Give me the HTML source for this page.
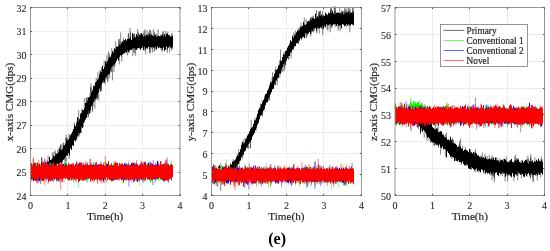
<!DOCTYPE html>
<html><head><meta charset="utf-8"><title>CMG</title>
<style>
html,body{margin:0;padding:0;background:#fff;}
body{width:550px;height:251px;overflow:hidden;}
svg{display:block;}
text{font-family:"Liberation Serif",serif;fill:#262626;}
.tl text{font-size:10px;stroke:#262626;stroke-width:0.1px;}
.lb{font-size:11.2px;stroke:#262626;stroke-width:0.18px;}
.lg{font-size:9.3px;stroke:#262626;stroke-width:0.2px;}
.cap{font-size:16px;font-weight:bold;fill:#000;}
</style></head>
<body>
<svg width="550" height="251" viewBox="0 0 550 251">
<rect width="550" height="251" fill="#fff"/>
<path d="M67.5 7.5V195.5M105.5 7.5V195.5M142.5 7.5V195.5M30.5 172.5H180.0M30.5 148.5H180.0M30.5 125.5H180.0M30.5 101.5H180.0M30.5 78.5H180.0M30.5 54.5H180.0M30.5 31.5H180.0" stroke="#ececec" stroke-width="1" fill="none"/>
<path d="M30.5 165.5V176.9M31.5 167.2V178.8M32.5 165.8V177.7M33.5 165.8V179.8M34.5 165.9V177.6M35.5 163.9V177.5M36.5 163.8V178.0M37.5 164.9V179.0M38.5 166.2V178.2M39.5 164.0V178.2M40.5 166.7V178.6M41.5 162.8V177.4M42.5 163.4V177.3M43.5 162.8V178.0M44.5 164.4V177.7M45.5 162.3V176.4M46.5 163.2V175.8M47.5 161.7V174.9M48.5 162.0V172.8M49.5 157.1V173.5M50.5 159.9V173.0M51.5 159.7V172.6M52.5 158.1V169.0M53.5 155.7V170.2M54.5 156.2V169.5M55.5 154.5V168.6M56.5 153.7V167.2M57.5 153.2V164.2M58.5 152.5V166.3M59.5 148.6V163.5M60.5 150.0V162.5M61.5 150.2V163.1M62.5 148.9V160.9M63.5 146.0V159.8M64.5 145.2V158.7M65.5 143.4V156.9M66.5 140.0V155.7M67.5 140.5V155.7M68.5 139.3V153.2M69.5 137.8V155.2M70.5 135.1V148.4M71.5 133.5V149.9M72.5 131.5V145.4M73.5 129.0V145.9M74.5 124.5V140.4M75.5 126.3V141.4M76.5 123.4V138.0M77.5 117.2V136.3M78.5 121.5V133.3M79.5 119.2V133.5M80.5 114.2V132.9M81.5 112.6V126.7M82.5 110.0V127.9M83.5 110.1V123.0M84.5 108.0V121.2M85.5 102.9V119.3M86.5 102.4V117.6M87.5 100.5V114.2M88.5 97.3V111.5M89.5 97.1V113.5M90.5 95.5V110.5M91.5 92.1V106.2M92.5 90.5V104.6M93.5 86.3V102.3M94.5 86.1V98.8M95.5 82.3V99.4M96.5 81.3V95.4M97.5 79.7V94.7M98.5 78.6V92.7M99.5 74.4V88.7M100.5 72.1V86.7M101.5 72.0V84.3M102.5 65.9V82.8M103.5 69.0V80.9M104.5 66.6V82.3M105.5 61.3V77.1M106.5 63.9V77.0M107.5 61.1V75.0M108.5 58.5V74.4M109.5 57.6V74.6M110.5 56.7V70.4M111.5 54.3V67.6M112.5 51.3V66.6M113.5 52.6V65.0M114.5 48.4V64.2M115.5 49.2V63.3M116.5 46.8V60.9M117.5 46.9V58.6M118.5 46.5V60.5M119.5 44.9V56.9M120.5 45.1V55.3M121.5 42.9V55.8M122.5 41.4V54.6M123.5 40.4V53.7M124.5 40.2V53.1M125.5 39.0V52.1M126.5 40.5V52.7M127.5 38.9V50.6M128.5 38.7V52.3M129.5 38.6V50.8M130.5 37.1V49.8M131.5 39.9V50.1M132.5 33.2V48.8M133.5 37.6V48.5M134.5 37.0V48.4M135.5 37.6V49.6M136.5 34.2V49.9M137.5 35.7V48.3M138.5 36.4V48.2M139.5 34.5V48.3M140.5 35.1V49.7M141.5 33.0V48.3M142.5 34.5V46.7M143.5 36.6V50.0M144.5 35.6V46.6M145.5 36.2V49.4M146.5 35.0V48.1M147.5 35.2V48.7M148.5 35.9V46.9M149.5 34.0V46.9M150.5 35.4V47.4M151.5 34.6V47.4M152.5 35.4V47.1M153.5 36.2V47.5M154.5 35.3V47.8M155.5 34.9V46.4M156.5 36.6V49.2M157.5 36.4V46.5M158.5 35.8V48.2M159.5 36.1V47.4M160.5 36.2V48.2M161.5 35.3V48.0M162.5 35.1V48.9M163.5 37.0V47.5M164.5 34.2V50.9M165.5 36.3V49.7M166.5 33.8V46.6M167.5 33.3V48.0M168.5 34.9V47.7M169.5 35.2V46.3M170.5 36.6V47.3M171.5 36.3V48.3M172.5 35.9V46.9" stroke="#000" stroke-width="1.0" fill="none"/>
<path d="M32.0 177.7V179.5M32.3 165.8V164.3M32.8 165.8V165.5M34.4 165.9V162.3M34.9 165.9V163.6M35.2 177.5V178.4M35.2 177.5V181.0M36.8 178.0V179.3M37.1 179.0V180.3M37.4 179.0V181.1M38.8 166.2V165.2M40.4 178.6V183.9M40.8 166.7V163.6M41.5 162.8V157.1M41.7 177.4V181.2M41.8 162.8V157.5M42.8 177.3V179.7M44.1 177.7V179.9M44.8 177.7V178.6M44.9 177.7V179.1M45.4 162.3V162.1M46.2 163.2V162.2M47.5 161.7V160.5M48.1 162.0V155.3M48.2 172.8V176.6M48.7 162.0V161.5M49.2 173.5V176.6M49.3 173.5V174.9M49.6 157.1V157.0M49.7 173.5V179.6M49.9 157.1V156.7M50.1 173.0V174.1M51.2 159.7V159.0M51.2 172.6V177.5M52.1 169.0V170.6M52.3 158.1V152.3M52.9 169.0V171.6M52.9 169.0V175.1M53.6 155.7V155.2M53.8 170.2V174.2M53.8 170.2V178.7M53.9 155.7V151.8M55.2 154.5V150.1M55.3 154.5V152.6M56.1 167.2V179.2M57.3 153.2V153.1M57.9 153.2V150.5M58.1 152.5V149.1M59.0 148.6V147.6M60.0 148.6V146.0M60.1 162.5V163.0M60.6 162.5V163.6M60.6 150.0V145.2M60.6 150.0V149.4M60.8 150.0V143.8M60.9 150.0V149.7M61.3 150.2V149.2M62.0 148.9V144.7M62.3 160.9V165.6M62.9 160.9V161.2M63.2 146.0V142.9M63.2 146.0V145.9M63.7 146.0V142.7M64.1 158.7V159.3M64.8 158.7V160.9M65.6 143.4V138.2M65.9 156.9V161.7M65.9 156.9V164.2M66.1 140.0V134.4M66.5 140.0V137.1M67.1 140.5V138.0M67.8 140.5V138.7M67.8 155.7V156.0M69.0 155.2V155.3M69.1 155.2V159.0M69.2 137.8V133.7M69.2 137.8V135.5M69.6 155.2V156.1M74.2 124.5V122.2M76.3 138.0V139.5M76.6 123.4V121.4M76.6 138.0V140.2M77.0 136.3V139.1M78.3 133.3V136.3M78.3 133.3V134.7M78.6 121.5V117.8M78.7 121.5V110.1M78.9 133.3V137.1M78.9 121.5V121.1M79.7 133.5V135.2M80.5 114.2V113.0M81.1 126.7V128.8M81.3 126.7V133.0M81.9 112.6V108.5M83.4 123.0V127.2M84.1 108.0V107.6M84.3 108.0V98.4M84.7 121.2V122.8M85.5 119.3V119.9M86.0 117.6V117.7M86.2 102.4V97.8M86.2 117.6V118.0M86.5 102.4V97.6M87.7 100.5V96.9M87.8 100.5V100.0M88.1 111.5V118.2M88.3 111.5V116.7M88.9 111.5V114.6M90.0 97.1V93.3M90.5 95.5V87.1M90.7 110.5V112.8M91.0 92.1V83.3M91.2 92.1V87.4M92.4 104.6V110.2M92.6 104.6V111.7M93.0 90.5V89.0M93.0 86.3V85.9M93.2 102.3V106.3M94.0 86.3V84.7M94.1 98.8V101.5M94.4 98.8V99.5M94.9 98.8V108.8M94.9 98.8V101.1M96.2 81.3V77.8M96.4 95.4V97.8M96.5 95.4V96.7M96.8 95.4V97.8M96.9 95.4V99.9M96.9 95.4V99.0M97.6 94.7V96.8M97.8 94.7V98.5M97.9 79.7V71.9M98.7 92.7V100.3M98.9 78.6V77.8M99.9 74.4V70.6M100.0 86.7V92.0M100.3 86.7V88.0M100.6 86.7V91.6M100.7 72.1V70.2M100.8 86.7V90.9M101.2 84.3V86.2M101.3 84.3V91.0M101.3 84.3V89.2M101.5 72.0V67.3M103.6 80.9V83.1M103.7 80.9V81.3M104.1 66.6V60.5M104.2 82.3V82.7M105.1 77.1V84.5M105.3 77.1V78.4M105.9 77.1V79.1M106.2 77.0V79.4M106.6 63.9V60.7M106.7 63.9V63.0M106.9 63.9V62.0M107.0 61.1V55.3M107.6 75.0V82.1M108.0 74.4V80.9M108.3 58.5V51.3M109.0 58.5V56.8M109.2 57.6V56.9M109.2 57.6V56.7M109.3 74.6V77.8M109.5 57.6V53.1M110.1 70.4V72.7M111.0 70.4V71.4M111.5 67.6V72.1M111.8 54.3V48.1M112.4 66.6V80.4M113.0 66.6V66.7M113.2 52.6V52.1M113.8 52.6V49.7M113.9 65.0V72.0M114.0 64.2V64.7M114.3 64.2V66.7M114.8 64.2V66.5M114.9 48.4V48.1M115.7 49.2V41.2M117.5 58.6V59.0M117.5 46.9V46.0M118.4 46.5V45.2M118.6 46.5V39.2M119.0 44.9V43.6M119.3 56.9V64.4M119.4 44.9V38.8M120.0 45.1V41.5M120.6 45.1V44.3M120.7 45.1V32.4M121.1 55.8V55.9M121.6 42.9V42.4M121.8 55.8V57.0M121.8 55.8V61.6M122.5 54.6V54.8M123.4 40.4V37.7M124.7 53.1V53.7M124.9 53.1V53.6M125.2 52.1V52.2M127.4 50.6V55.4M128.0 38.9V38.7M128.2 38.7V33.8M128.6 38.7V32.9M129.1 50.8V53.1M129.7 38.6V37.3M130.1 37.1V28.0M130.5 37.1V32.4M132.9 48.8V56.2M133.5 37.6V33.9M133.5 48.5V49.1M133.9 48.5V52.6M134.0 37.6V34.0M134.2 37.0V35.8M134.4 48.4V53.1M134.6 37.0V33.2M135.6 49.6V55.7M135.9 37.6V36.0M136.0 37.6V37.3M137.0 48.3V49.2M137.7 35.7V28.9M138.0 36.4V32.1M138.5 36.4V33.2M140.6 35.1V33.1M142.9 46.7V47.9M143.5 50.0V50.3M143.8 36.6V32.6M144.0 46.6V47.2M144.1 35.6V30.8M144.2 46.6V47.3M144.7 46.6V50.9M145.1 36.2V28.9M145.7 49.4V54.2M145.8 36.2V34.6M146.0 48.1V48.5M146.3 48.1V48.4M146.5 35.0V34.7M147.1 35.2V30.4M148.1 35.9V35.4M148.2 35.9V32.8M148.7 35.9V32.9M149.6 46.9V48.9M149.6 46.9V53.4M149.7 34.0V30.1M150.0 47.4V50.8M150.1 35.4V29.4M150.2 47.4V53.0M150.7 35.4V34.2M151.0 35.4V31.4M151.7 34.6V34.1M152.3 47.1V52.7M152.3 47.1V49.3M152.9 35.4V35.2M153.3 36.2V29.2M153.4 47.5V47.9M154.2 47.8V52.0M154.4 35.3V33.0M154.4 35.3V31.9M154.6 47.8V50.6M154.7 35.3V34.3M155.6 46.4V48.2M155.6 46.4V47.0M155.9 46.4V49.9M156.0 49.2V49.5M156.4 36.6V33.5M157.2 46.5V47.6M157.5 36.4V34.6M158.1 35.8V29.4M160.5 36.2V34.5M161.2 48.0V49.8M162.0 48.9V52.1M162.1 35.1V34.3M162.2 48.9V50.3M162.6 35.1V32.1M162.7 48.9V50.1M163.0 37.0V33.5M163.4 37.0V36.8M163.6 37.0V30.9M165.8 36.3V31.0M165.9 36.3V36.1M166.7 46.6V47.2M167.2 48.0V50.3M167.3 48.0V52.8M167.4 48.0V49.2M168.0 33.3V31.6M169.7 46.3V52.9M170.1 47.3V48.1M170.9 36.6V36.1M171.7 48.3V50.4M171.9 36.3V32.7M171.9 36.3V34.0M172.1 46.9V46.9M172.4 35.9V35.8M172.4 46.9V49.2" stroke="#000" stroke-width="0.5" fill="none"/>
<path d="M30.5 165.7V176.6M31.5 165.3V176.9M32.5 164.5V180.1M33.5 164.7V177.2M34.5 166.4V177.8M35.5 163.0V178.1M36.5 163.0V178.2M37.5 166.4V178.3M38.5 166.3V180.0M39.5 165.8V177.3M40.5 165.9V178.6M41.5 165.9V180.0M42.5 165.5V177.0M43.5 166.4V177.8M44.5 164.7V177.7M45.5 164.1V177.1M46.5 165.5V177.6M47.5 166.5V176.8M48.5 166.0V179.4M49.5 166.7V179.9M50.5 162.8V178.2M51.5 164.2V180.8M52.5 164.7V178.1M53.5 166.2V177.1M54.5 166.8V178.3M55.5 165.1V176.7M56.5 167.0V181.6M57.5 165.3V179.8M58.5 166.9V178.0M59.5 164.8V177.9M60.5 165.6V178.5M61.5 166.6V178.3M62.5 166.1V178.0M63.5 167.0V178.3M64.5 161.8V177.8M65.5 165.8V177.8M66.5 167.4V178.4M67.5 165.3V177.8M68.5 165.2V177.9M69.5 165.7V178.5M70.5 164.0V176.8M71.5 166.1V179.3M72.5 165.1V177.1M73.5 165.6V177.5M74.5 166.2V179.0M75.5 167.8V177.0M76.5 166.3V178.4M77.5 165.6V176.7M78.5 166.1V179.1M79.5 164.7V176.3M80.5 167.2V178.3M81.5 165.8V179.6M82.5 166.1V178.0M83.5 165.6V177.6M84.5 164.5V179.9M85.5 165.6V177.3M86.5 165.5V179.8M87.5 165.6V178.7M88.5 165.4V179.4M89.5 167.0V178.7M90.5 165.5V178.7M91.5 164.5V178.3M92.5 165.4V181.4M93.5 162.2V178.6M94.5 166.5V177.6M95.5 166.0V179.8M96.5 167.4V177.5M97.5 166.1V178.7M98.5 166.4V178.0M99.5 166.7V179.7M100.5 165.7V178.1M101.5 165.3V177.7M102.5 166.2V179.9M103.5 163.8V177.9M104.5 166.4V178.8M105.5 161.8V179.3M106.5 165.1V177.1M107.5 165.4V178.9M108.5 165.8V177.5M109.5 165.0V178.8M110.5 166.2V177.7M111.5 165.2V177.6M112.5 165.1V179.5M113.5 164.5V179.1M114.5 163.3V177.6M115.5 166.6V178.3M116.5 166.8V178.6M117.5 163.4V179.0M118.5 165.7V178.6M119.5 165.3V177.3M120.5 167.3V178.4M121.5 163.1V178.1M122.5 165.0V177.6M123.5 167.0V178.8M124.5 163.2V177.2M125.5 166.0V179.1M126.5 165.9V179.4M127.5 165.2V179.7M128.5 165.1V177.1M129.5 165.0V179.7M130.5 165.6V178.9M131.5 164.9V179.3M132.5 165.9V177.2M133.5 166.0V177.8M134.5 163.7V177.4M135.5 165.2V179.8M136.5 165.4V178.4M137.5 165.2V177.2M138.5 166.3V179.0M139.5 164.8V177.9M140.5 166.0V177.4M141.5 166.4V178.3M142.5 165.2V181.0M143.5 165.7V179.2M144.5 164.8V179.8M145.5 165.7V177.6M146.5 163.8V177.2M147.5 166.5V178.6M148.5 166.2V177.0M149.5 164.2V178.2M150.5 165.2V182.6M151.5 165.5V180.8M152.5 165.8V177.5M153.5 166.9V177.8M154.5 167.1V177.1M155.5 166.6V176.7M156.5 167.4V179.0M157.5 166.8V178.7M158.5 166.0V180.1M159.5 166.2V178.1M160.5 164.6V178.2M161.5 166.4V179.9M162.5 164.3V179.4M163.5 166.3V178.7M164.5 166.5V177.4M165.5 166.8V178.0M166.5 165.7V178.0M167.5 165.9V181.3M168.5 166.0V178.2M169.5 165.9V178.0M170.5 163.3V178.5M171.5 166.5V178.1M172.5 166.7V176.8" stroke="#00ff00" stroke-width="1.0" fill="none"/>
<path d="M30.9 176.6V178.7M31.4 165.3V164.3M31.5 176.9V177.6M31.8 176.9V179.7M31.9 176.9V178.0M34.3 166.4V163.4M34.8 166.4V166.4M37.4 166.4V166.0M38.6 180.0V180.3M38.9 166.3V166.0M39.3 165.8V163.4M39.5 177.3V178.1M42.2 177.0V177.5M44.1 177.7V180.2M45.6 177.1V181.3M45.8 164.1V163.8M48.2 166.0V163.2M48.4 166.0V165.9M50.8 178.2V179.0M53.0 177.1V177.3M54.5 178.3V178.3M55.3 176.7V177.2M56.3 167.0V165.8M56.6 167.0V166.2M56.9 167.0V163.3M58.1 178.0V178.9M58.7 178.0V178.1M58.7 178.0V178.4M60.2 178.5V179.0M60.4 178.5V180.5M61.0 178.5V180.5M61.7 166.6V165.8M61.8 178.3V178.4M62.5 166.1V165.8M64.2 177.8V178.5M66.3 178.4V178.9M66.5 167.4V163.0M67.9 177.8V178.7M68.2 165.2V164.2M68.3 165.2V163.4M68.5 165.2V162.8M71.1 179.3V181.1M71.5 179.3V181.5M72.0 177.1V180.6M72.1 177.1V180.4M72.5 177.1V178.0M72.7 177.1V179.7M72.9 177.1V178.6M73.3 177.5V178.6M73.3 165.6V165.0M76.4 178.4V180.5M76.9 166.3V165.0M77.5 165.6V165.2M77.7 165.6V162.5M77.9 176.7V177.7M78.1 166.1V165.6M78.4 166.1V163.3M78.6 179.1V187.3M78.6 166.1V163.8M79.2 176.3V178.0M80.8 167.2V165.0M81.1 179.6V181.3M82.5 178.0V179.9M85.2 177.3V180.5M85.3 177.3V181.3M87.4 165.6V164.8M88.0 179.4V180.9M89.0 167.0V166.8M89.5 167.0V164.6M90.7 178.7V179.1M91.7 178.3V178.4M92.1 165.4V165.3M96.7 167.4V166.0M97.8 166.1V164.8M99.5 166.7V165.1M100.0 166.7V166.1M100.3 165.7V164.5M101.3 165.3V165.0M102.9 179.9V182.4M103.8 177.9V178.8M104.9 166.4V161.9M107.1 178.9V182.6M109.4 165.0V163.0M109.9 165.0V164.9M111.1 165.2V165.1M111.6 177.6V178.1M112.3 165.1V163.4M113.7 179.1V181.7M115.4 178.3V179.5M116.2 166.8V163.6M118.5 165.7V164.5M118.8 178.6V180.1M122.8 177.6V184.0M124.6 177.2V178.2M124.8 177.2V177.8M127.0 179.4V179.5M128.1 177.1V178.2M128.6 177.1V177.3M128.9 177.1V178.9M128.9 177.1V178.0M131.6 164.9V164.2M134.3 177.4V178.9M134.5 177.4V182.1M134.6 163.7V162.7M137.3 165.2V163.7M138.5 166.3V166.3M138.7 179.0V180.0M138.8 179.0V179.9M139.7 177.9V185.9M141.1 166.4V166.4M141.2 166.4V159.9M142.0 166.4V166.2M143.9 165.7V165.1M145.2 165.7V165.2M145.8 177.6V181.4M146.6 177.2V177.5M148.3 166.2V163.0M148.5 166.2V165.0M149.0 177.0V177.0M149.0 164.2V161.8M149.1 178.2V179.2M150.0 164.2V162.7M154.9 177.1V183.3M156.4 179.0V179.7M158.7 180.1V181.8M159.2 178.1V180.5M161.7 166.4V165.4M162.8 164.3V163.5M163.2 166.3V164.6M164.6 177.4V180.7M164.7 166.5V165.4M165.0 178.0V179.1M166.2 165.7V163.5M166.2 165.7V164.0M167.2 165.9V165.6M168.3 178.2V178.2M168.5 178.2V183.8M169.7 178.0V178.4M169.8 165.9V164.6M171.0 166.5V166.2M171.2 178.1V178.3M171.2 166.5V165.3M171.5 166.5V161.2M172.0 178.1V178.3M172.2 176.8V176.8" stroke="#00ff00" stroke-width="0.5" fill="none"/>
<path d="M30.5 166.4V177.8M31.5 166.7V178.8M32.5 165.9V177.5M33.5 163.4V181.2M34.5 164.7V177.4M35.5 164.5V178.0M36.5 166.5V180.6M37.5 165.9V178.9M38.5 165.2V177.4M39.5 165.4V181.1M40.5 167.1V178.6M41.5 165.5V177.7M42.5 165.3V177.6M43.5 166.7V178.0M44.5 165.9V178.8M45.5 165.9V177.6M46.5 166.1V177.6M47.5 164.6V177.4M48.5 166.0V179.4M49.5 165.6V179.1M50.5 166.5V178.1M51.5 164.7V179.3M52.5 164.4V179.1M53.5 165.8V178.1M54.5 167.0V179.6M55.5 165.2V178.3M56.5 164.7V179.1M57.5 166.5V180.4M58.5 166.2V179.4M59.5 164.8V178.9M60.5 164.8V178.7M61.5 165.4V178.7M62.5 165.0V177.1M63.5 164.0V178.0M64.5 166.6V177.3M65.5 163.7V178.7M66.5 164.4V177.1M67.5 166.3V178.3M68.5 165.1V177.1M69.5 164.9V180.0M70.5 165.4V178.4M71.5 163.9V179.1M72.5 166.7V178.0M73.5 164.8V178.3M74.5 166.7V178.6M75.5 163.9V178.1M76.5 163.9V178.1M77.5 165.2V177.7M78.5 163.7V176.2M79.5 164.4V181.0M80.5 163.6V179.6M81.5 166.8V177.5M82.5 165.4V179.2M83.5 165.5V177.7M84.5 165.4V177.4M85.5 164.5V179.7M86.5 164.9V177.1M87.5 165.5V178.9M88.5 166.3V178.1M89.5 166.3V177.5M90.5 164.9V177.7M91.5 166.7V178.2M92.5 164.6V179.5M93.5 165.1V178.2M94.5 167.0V178.5M95.5 163.9V177.4M96.5 166.1V177.0M97.5 165.1V177.5M98.5 164.6V178.0M99.5 166.5V179.5M100.5 167.5V179.8M101.5 164.7V179.5M102.5 165.2V179.3M103.5 166.4V181.5M104.5 166.6V178.3M105.5 166.2V178.6M106.5 164.4V177.2M107.5 163.9V179.8M108.5 164.6V177.6M109.5 166.4V178.2M110.5 167.3V178.5M111.5 163.5V180.7M112.5 166.2V178.3M113.5 166.0V180.0M114.5 167.0V177.0M115.5 167.4V179.8M116.5 165.6V178.6M117.5 166.2V179.3M118.5 166.5V178.8M119.5 166.2V178.0M120.5 166.9V177.9M121.5 168.0V178.2M122.5 163.8V179.5M123.5 167.3V178.5M124.5 163.8V179.7M125.5 164.6V177.4M126.5 167.0V178.7M127.5 167.7V177.6M128.5 166.1V178.2M129.5 167.1V179.0M130.5 165.3V179.8M131.5 163.1V178.0M132.5 166.9V179.5M133.5 162.8V177.9M134.5 164.6V178.6M135.5 166.3V178.0M136.5 166.3V178.4M137.5 166.4V181.9M138.5 166.9V177.1M139.5 166.2V179.0M140.5 166.3V177.5M141.5 164.1V179.7M142.5 167.6V178.0M143.5 165.2V178.1M144.5 162.2V177.6M145.5 166.0V176.8M146.5 166.4V176.3M147.5 166.7V177.1M148.5 162.8V179.3M149.5 165.9V179.4M150.5 166.9V178.0M151.5 165.9V179.8M152.5 163.8V179.8M153.5 165.1V179.1M154.5 165.4V179.5M155.5 166.4V178.8M156.5 165.0V178.4M157.5 161.0V178.6M158.5 165.0V177.8M159.5 165.8V177.0M160.5 164.2V177.7M161.5 166.7V176.6M162.5 165.7V177.6M163.5 164.4V180.4M164.5 166.4V177.6M165.5 166.5V180.4M166.5 163.5V177.3M167.5 164.7V179.3M168.5 164.3V176.5M169.5 166.0V178.4M170.5 165.1V178.3M171.5 166.5V178.4M172.5 167.6V175.3" stroke="#0000ff" stroke-width="1.0" fill="none"/>
<path d="M31.0 178.8V182.1M31.6 166.7V165.8M34.1 177.4V178.5M34.1 164.7V164.4M34.9 177.4V177.7M35.5 164.5V162.8M35.9 164.5V164.4M38.3 177.4V182.9M39.8 165.4V164.7M40.6 167.1V166.3M41.2 165.5V165.5M41.6 165.5V165.5M41.6 177.7V178.8M42.3 177.6V179.6M43.3 166.7V163.5M43.8 166.7V165.8M44.1 165.9V165.1M44.2 165.9V164.9M44.6 165.9V158.7M45.9 177.6V178.8M47.4 164.6V162.0M49.5 179.1V181.5M50.4 166.5V162.5M50.4 166.5V165.5M50.4 166.5V166.2M50.5 166.5V164.5M51.5 179.3V179.9M52.4 164.4V163.2M52.6 164.4V164.3M53.0 165.8V164.6M53.7 178.1V181.9M56.6 164.7V163.6M58.7 166.2V165.5M58.8 166.2V162.0M58.9 179.4V181.3M59.2 178.9V182.0M61.6 165.4V165.4M61.7 165.4V163.4M62.1 177.1V178.1M62.1 177.1V178.2M62.5 177.1V181.6M64.5 166.6V165.4M68.4 177.1V178.2M68.9 177.1V179.1M74.3 166.7V165.7M74.4 166.7V166.1M74.6 166.7V165.8M75.5 178.1V180.7M76.1 178.1V179.2M76.8 163.9V160.7M77.2 165.2V164.5M78.4 176.2V180.0M78.7 176.2V177.0M79.7 164.4V162.8M79.8 164.4V163.3M80.9 179.6V180.4M81.5 166.8V166.5M82.8 165.4V162.2M83.6 165.5V163.5M83.6 177.7V178.0M86.9 164.9V162.0M87.0 177.1V182.3M89.3 177.5V178.7M91.0 166.7V164.7M91.1 166.7V162.8M91.8 178.2V180.2M92.8 179.5V179.9M93.9 178.2V178.7M94.3 167.0V166.5M94.9 178.5V179.5M95.3 177.4V178.8M95.6 177.4V179.0M96.1 166.1V161.7M96.7 177.0V179.2M98.5 178.0V178.9M99.6 166.5V166.2M99.8 166.5V166.1M100.3 167.5V164.5M100.5 167.5V165.9M100.6 167.5V167.0M100.6 167.5V161.6M100.9 167.5V166.5M112.2 166.2V165.5M113.4 180.0V180.4M113.5 166.0V165.5M114.7 177.0V177.5M117.5 166.2V165.0M119.1 178.0V178.0M120.1 177.9V179.3M121.2 178.2V179.5M123.1 167.3V166.7M123.4 167.3V164.9M123.8 167.3V165.1M124.0 179.7V180.8M124.9 179.7V180.0M125.2 177.4V177.6M125.3 164.6V162.5M126.2 167.0V163.1M126.4 167.0V165.4M126.4 178.7V180.9M127.1 167.7V167.5M127.6 167.7V166.8M127.7 177.6V179.8M127.9 167.7V163.6M128.3 166.1V163.5M128.3 178.2V181.1M128.6 166.1V164.2M128.9 178.2V186.5M129.9 167.1V164.8M131.6 178.0V178.2M135.1 166.3V162.8M136.2 166.3V162.4M136.4 178.4V181.6M140.1 166.3V164.8M140.2 166.3V163.8M140.4 166.3V162.8M140.8 177.5V179.1M141.4 179.7V179.8M141.6 179.7V180.1M142.7 167.6V167.0M143.1 178.1V182.9M143.3 165.2V162.5M143.3 178.1V179.6M145.7 166.0V164.8M145.9 176.8V178.7M146.5 166.4V166.3M147.0 166.7V165.6M147.4 166.7V166.4M147.5 177.1V180.3M147.5 166.7V166.4M147.8 166.7V164.5M147.8 177.1V177.8M150.2 166.9V161.7M150.3 166.9V162.6M151.3 165.9V162.7M152.8 179.8V185.0M153.3 165.1V160.0M155.5 166.4V164.0M155.8 178.8V181.8M158.4 177.8V178.5M159.5 165.8V164.1M160.0 165.8V165.3M161.0 164.2V161.1M161.0 166.7V165.7M161.8 176.6V178.0M162.0 177.6V178.2M162.4 165.7V164.4M163.2 180.4V180.4M163.6 180.4V182.3M164.2 177.6V179.9M165.3 166.5V161.3M167.0 163.5V159.4M168.8 176.5V182.1M170.9 178.3V179.7M171.6 166.5V164.3M172.3 175.3V176.4M172.4 175.3V175.8" stroke="#0000ff" stroke-width="0.5" fill="none"/>
<path d="M30.5 165.7V179.3M31.5 163.1V177.7M32.5 166.2V179.2M33.5 164.6V178.7M34.5 162.9V180.1M35.5 163.8V181.3M36.5 167.1V178.4M37.5 162.5V179.5M38.5 165.3V180.3M39.5 164.9V177.5M40.5 166.4V179.8M41.5 164.8V179.8M42.5 165.3V180.9M43.5 164.0V181.2M44.5 166.9V177.2M45.5 163.6V177.6M46.5 164.0V177.3M47.5 163.9V179.5M48.5 166.0V182.2M49.5 163.1V180.3M50.5 166.3V181.1M51.5 165.5V178.7M52.5 163.3V180.6M53.5 162.5V178.3M54.5 166.6V178.6M55.5 165.2V178.2M56.5 163.6V177.9M57.5 165.8V179.4M58.5 164.2V178.6M59.5 162.6V179.4M60.5 164.1V178.7M61.5 165.8V179.4M62.5 164.4V179.9M63.5 165.7V177.6M64.5 166.4V177.7M65.5 166.7V178.6M66.5 165.2V177.7M67.5 165.5V179.3M68.5 163.3V180.0M69.5 164.5V178.9M70.5 164.6V177.4M71.5 164.1V180.0M72.5 164.4V178.5M73.5 163.4V178.6M74.5 166.7V179.8M75.5 164.8V178.1M76.5 162.1V178.2M77.5 164.8V179.1M78.5 165.1V182.3M79.5 162.4V180.3M80.5 162.4V179.8M81.5 162.7V178.1M82.5 165.4V180.7M83.5 165.8V180.6M84.5 164.9V180.0M85.5 164.7V179.1M86.5 165.3V178.0M87.5 163.2V179.2M88.5 165.0V178.4M89.5 165.0V177.5M90.5 165.8V181.7M91.5 165.6V179.6M92.5 166.1V180.6M93.5 165.1V179.1M94.5 165.0V180.6M95.5 164.0V178.6M96.5 162.6V179.5M97.5 166.6V179.8M98.5 165.8V179.4M99.5 164.5V180.4M100.5 163.9V179.6M101.5 163.5V180.5M102.5 166.2V178.7M103.5 164.0V178.5M104.5 165.9V179.6M105.5 165.5V179.8M106.5 163.3V176.7M107.5 167.0V179.0M108.5 161.2V178.5M109.5 165.6V180.0M110.5 165.0V180.0M111.5 163.9V181.4M112.5 165.8V181.2M113.5 166.4V178.8M114.5 163.7V179.7M115.5 161.8V178.4M116.5 163.0V179.7M117.5 162.9V179.5M118.5 166.2V179.5M119.5 163.0V177.9M120.5 164.2V178.4M121.5 164.1V180.0M122.5 163.6V176.0M123.5 164.9V182.5M124.5 165.3V179.1M125.5 166.2V180.1M126.5 164.2V178.8M127.5 165.5V178.3M128.5 165.2V179.8M129.5 165.9V179.7M130.5 164.8V179.2M131.5 165.8V178.3M132.5 162.4V178.0M133.5 165.3V182.1M134.5 165.8V181.0M135.5 165.6V177.2M136.5 163.5V179.3M137.5 164.2V177.8M138.5 165.5V177.5M139.5 165.2V180.7M140.5 166.6V179.2M141.5 161.8V178.4M142.5 163.9V178.7M143.5 165.1V178.8M144.5 164.0V178.1M145.5 161.6V180.3M146.5 165.0V177.6M147.5 166.1V178.3M148.5 165.7V178.0M149.5 165.8V180.2M150.5 163.9V178.9M151.5 164.1V180.0M152.5 165.4V180.3M153.5 165.2V178.7M154.5 165.0V177.0M155.5 164.9V179.1M156.5 165.9V178.7M157.5 165.4V177.6M158.5 165.8V178.2M159.5 165.9V177.7M160.5 161.1V179.5M161.5 164.3V178.6M162.5 165.2V180.1M163.5 163.8V179.0M164.5 163.4V181.5M165.5 165.8V179.3M166.5 163.6V180.2M167.5 163.9V180.7M168.5 166.6V180.9M169.5 166.2V178.4M170.5 164.8V178.0M171.5 164.3V180.0M172.5 165.0V177.2" stroke="#ff0000" stroke-width="1.0" fill="none"/>
<path d="M31.2 177.7V180.1M32.5 166.2V165.8M33.2 164.6V157.6M33.4 164.6V157.9M33.4 164.6V164.3M36.7 178.4V183.5M37.4 179.5V180.1M37.6 179.5V183.3M38.2 165.3V163.0M38.7 165.3V163.9M38.9 165.3V159.9M41.6 164.8V163.0M42.1 165.3V162.1M42.7 165.3V161.3M42.8 165.3V161.3M43.7 164.0V161.3M44.4 166.9V164.6M44.8 177.2V185.3M44.9 166.9V160.6M45.3 163.6V163.0M46.0 164.0V159.2M46.4 177.3V181.9M46.4 177.3V179.9M48.1 182.2V184.1M52.3 180.6V181.2M52.3 180.6V181.7M54.2 166.6V163.8M54.2 166.6V164.4M56.3 177.9V180.4M56.6 177.9V178.3M56.9 177.9V181.3M57.3 179.4V180.7M58.1 164.2V162.9M58.7 178.6V181.6M60.2 178.7V179.0M60.6 178.7V189.5M61.3 165.8V164.4M61.5 165.8V164.2M61.6 179.4V182.3M61.8 165.8V162.8M62.3 179.9V182.4M64.0 177.7V182.3M64.5 177.7V178.0M65.3 166.7V164.6M66.0 166.7V163.0M68.2 180.0V181.3M68.7 163.3V162.6M69.3 178.9V180.8M72.6 164.4V163.0M72.8 178.5V180.4M73.2 163.4V162.5M73.7 178.6V182.2M76.1 178.2V182.6M76.2 178.2V179.1M81.9 178.1V180.0M83.9 165.8V163.6M85.3 164.7V161.0M86.6 178.0V178.3M86.9 165.3V165.0M88.8 165.0V164.9M89.8 165.0V159.0M90.7 165.8V158.8M90.8 165.8V162.4M93.7 179.1V182.9M94.7 165.0V164.7M95.0 165.0V162.8M95.5 164.0V162.7M97.5 179.8V184.0M97.6 179.8V181.9M98.1 165.8V164.3M99.5 164.5V164.1M100.0 164.5V164.4M100.5 179.6V182.2M101.9 180.5V183.5M103.6 178.5V178.9M103.6 164.0V161.9M104.0 165.9V164.5M104.2 179.6V183.5M104.2 165.9V165.3M105.2 165.5V155.7M106.1 176.7V182.7M113.1 178.8V180.3M113.2 166.4V166.3M114.1 163.7V161.0M114.4 179.7V180.4M114.8 163.7V163.3M115.3 178.4V179.0M117.1 179.5V179.9M119.2 177.9V180.3M119.6 177.9V178.4M119.8 177.9V180.6M119.8 163.0V162.6M121.2 164.1V163.6M122.3 176.0V178.8M122.9 176.0V176.6M127.0 165.5V164.1M128.9 165.2V160.6M129.7 179.7V179.8M130.0 179.2V180.1M130.1 179.2V181.0M130.9 179.2V180.0M131.0 178.3V179.0M131.3 178.3V182.8M134.0 165.3V163.4M134.2 165.8V164.9M134.6 181.0V181.5M135.0 165.6V163.8M135.5 165.6V164.4M135.5 177.2V180.2M136.7 163.5V159.9M136.9 179.3V179.9M137.2 177.8V178.3M138.1 177.5V181.6M138.2 177.5V177.5M138.3 177.5V180.8M138.8 177.5V180.2M143.1 165.1V164.8M143.2 165.1V161.5M144.2 178.1V180.6M144.3 178.1V181.8M144.4 178.1V178.7M144.8 178.1V178.2M147.1 166.1V165.8M147.6 166.1V162.8M147.8 166.1V165.7M148.4 178.0V178.8M151.3 164.1V162.9M151.6 164.1V163.5M152.7 180.3V180.6M154.6 177.0V178.4M156.0 164.9V162.2M156.5 165.9V163.6M156.7 178.7V180.1M157.0 178.7V179.2M158.2 165.8V162.5M158.5 165.8V162.6M158.6 165.8V164.0M159.0 165.9V165.3M162.3 165.2V164.8M162.9 180.1V180.5M165.5 165.8V159.9M166.0 165.8V165.5M166.1 163.6V162.6M166.7 163.6V161.9M167.1 163.9V157.1M168.3 166.6V163.7M169.7 166.2V165.7M171.7 180.0V180.8" stroke="#ff0000" stroke-width="0.5" fill="none"/>
<rect x="30.5" y="7.5" width="149.5" height="188.0" fill="none" stroke="#959595" stroke-width="1"/>
<path d="M30.5 195.5v-1.5M30.5 7.5v1.5M67.5 195.5v-1.5M67.5 7.5v1.5M105.5 195.5v-1.5M105.5 7.5v1.5M142.5 195.5v-1.5M142.5 7.5v1.5M180.5 195.5v-1.5M180.5 7.5v1.5M30.5 195.5h1.5M180.0 195.5h-1.5M30.5 172.5h1.5M180.0 172.5h-1.5M30.5 148.5h1.5M180.0 148.5h-1.5M30.5 125.5h1.5M180.0 125.5h-1.5M30.5 101.5h1.5M180.0 101.5h-1.5M30.5 78.5h1.5M180.0 78.5h-1.5M30.5 54.5h1.5M180.0 54.5h-1.5M30.5 31.5h1.5M180.0 31.5h-1.5M30.5 7.5h1.5M180.0 7.5h-1.5" stroke="#555" stroke-width="1" fill="none"/>
<g class="tl"><text x="30.5" y="208.8" text-anchor="middle">0</text><text x="67.9" y="208.8" text-anchor="middle">1</text><text x="105.2" y="208.8" text-anchor="middle">2</text><text x="142.6" y="208.8" text-anchor="middle">3</text><text x="180.0" y="208.8" text-anchor="middle">4</text><text x="26.5" y="199.8" text-anchor="end">24</text><text x="26.5" y="176.3" text-anchor="end">25</text><text x="26.5" y="152.8" text-anchor="end">26</text><text x="26.5" y="129.3" text-anchor="end">27</text><text x="26.5" y="105.8" text-anchor="end">28</text><text x="26.5" y="82.3" text-anchor="end">29</text><text x="26.5" y="58.8" text-anchor="end">30</text><text x="26.5" y="35.3" text-anchor="end">31</text><text x="26.5" y="11.8" text-anchor="end">32</text></g>
<text class="lb" x="105.2" y="220.3" text-anchor="middle">Time(h)</text>
<text class="lb" transform="translate(13.1,102.0) rotate(-90)" text-anchor="middle">x-axis CMG(dps)</text>
<path d="M248.5 7.5V195.5M286.5 7.5V195.5M323.5 7.5V195.5M211.5 174.5H361.4M211.5 153.5H361.4M211.5 132.5H361.4M211.5 111.5H361.4M211.5 91.5H361.4M211.5 70.5H361.4M211.5 49.5H361.4M211.5 28.5H361.4" stroke="#ececec" stroke-width="1" fill="none"/>
<path d="M211.5 166.8V179.7M212.5 167.0V180.7M213.5 168.4V180.5M214.5 168.2V181.2M215.5 169.3V181.4M216.5 168.2V179.5M217.5 169.4V180.0M218.5 166.3V181.0M219.5 165.4V179.9M220.5 168.5V180.4M221.5 169.0V181.2M222.5 169.1V181.1M223.5 167.5V179.9M224.5 166.9V181.0M225.5 167.2V180.9M226.5 169.0V183.2M227.5 168.2V179.8M228.5 167.0V179.4M229.5 167.9V179.7M230.5 164.3V177.4M231.5 164.7V175.5M232.5 161.6V176.5M233.5 162.1V173.5M234.5 160.5V174.1M235.5 159.6V168.8M236.5 156.8V169.0M237.5 155.9V165.8M238.5 155.4V164.0M239.5 152.1V161.3M240.5 149.2V160.5M241.5 145.1V157.4M242.5 141.8V154.8M243.5 143.5V154.7M244.5 142.7V151.7M245.5 139.6V150.6M246.5 139.0V147.9M247.5 135.6V146.6M248.5 133.9V144.3M249.5 131.7V142.2M250.5 128.8V141.8M251.5 127.7V139.8M252.5 126.9V136.5M253.5 123.9V134.7M254.5 120.3V133.0M255.5 120.2V130.3M256.5 117.7V127.7M257.5 113.7V124.8M258.5 109.8V122.8M259.5 108.4V119.3M260.5 107.8V115.8M261.5 104.2V115.1M262.5 101.9V112.2M263.5 99.9V110.4M264.5 98.2V108.8M265.5 94.1V105.2M266.5 93.5V102.6M267.5 90.5V102.2M268.5 88.6V98.6M269.5 86.2V96.9M270.5 81.6V94.0M271.5 82.6V92.1M272.5 80.8V89.3M273.5 76.5V88.8M274.5 73.5V83.9M275.5 71.5V81.3M276.5 69.8V80.6M277.5 68.7V78.7M278.5 66.0V77.7M279.5 64.6V73.7M280.5 60.4V73.5M281.5 60.8V68.9M282.5 57.0V67.5M283.5 54.2V64.4M284.5 55.0V63.4M285.5 51.1V61.9M286.5 50.2V59.6M287.5 47.6V58.2M288.5 45.7V56.4M289.5 44.5V56.0M290.5 40.2V52.4M291.5 41.5V51.7M292.5 35.7V49.5M293.5 37.7V48.6M294.5 36.0V46.5M295.5 34.5V46.1M296.5 32.4V43.4M297.5 30.4V43.1M298.5 30.9V40.8M299.5 29.7V40.7M300.5 27.6V38.3M301.5 26.7V38.9M302.5 25.9V36.9M303.5 22.0V36.9M304.5 24.4V38.2M305.5 24.8V33.4M306.5 23.6V33.5M307.5 21.6V34.2M308.5 21.0V33.2M309.5 21.6V32.2M310.5 20.4V34.4M311.5 19.9V30.6M312.5 18.1V31.4M313.5 17.9V28.9M314.5 18.9V28.7M315.5 13.6V28.2M316.5 17.6V28.9M317.5 16.3V27.4M318.5 17.2V28.4M319.5 15.2V28.2M320.5 15.9V27.2M321.5 14.4V28.2M322.5 16.7V26.2M323.5 15.4V28.2M324.5 15.8V25.2M325.5 13.2V27.2M326.5 14.2V24.5M327.5 14.8V24.8M328.5 12.6V25.1M329.5 13.3V24.4M330.5 11.5V24.5M331.5 13.0V25.8M332.5 10.6V25.2M333.5 13.5V24.2M334.5 13.3V24.1M335.5 14.2V23.9M336.5 12.8V26.0M337.5 12.6V24.2M338.5 12.6V25.6M339.5 13.2V25.3M340.5 13.1V25.0M341.5 13.5V28.2M342.5 12.0V24.0M343.5 14.2V24.7M344.5 13.4V26.2M345.5 12.6V25.6M346.5 13.0V24.0M347.5 12.3V25.5M348.5 11.2V24.0M349.5 13.7V25.5M350.5 13.0V25.4M351.5 12.7V24.1M352.5 13.5V24.3M353.5 11.8V25.1" stroke="#000" stroke-width="1.0" fill="none"/>
<path d="M211.6 166.8V164.8M211.9 179.7V182.3M213.2 168.4V165.9M213.2 180.5V180.7M213.6 180.5V184.2M213.8 168.4V165.6M214.3 168.2V168.1M214.7 168.2V164.9M214.9 181.2V183.1M215.9 169.3V167.9M216.3 168.2V167.3M216.7 179.5V183.4M217.3 180.0V181.7M217.8 180.0V186.8M218.8 181.0V181.3M220.4 168.5V166.5M220.5 180.4V181.2M220.7 180.4V190.8M220.8 168.5V163.3M221.3 169.0V168.5M222.5 169.1V167.0M222.6 169.1V166.0M222.7 169.1V169.0M222.7 169.1V169.1M222.8 181.1V181.5M223.1 167.5V166.3M223.4 179.9V183.7M224.5 181.0V184.2M224.9 181.0V185.9M225.8 167.2V163.5M226.5 169.0V165.7M226.6 169.0V164.8M227.6 179.8V183.1M228.2 167.0V166.6M228.4 167.0V165.3M228.8 179.4V182.8M229.6 167.9V166.2M230.1 164.3V163.8M230.3 177.4V181.0M230.4 164.3V163.4M230.5 177.4V177.9M230.9 177.4V179.4M231.2 175.5V176.3M231.4 164.7V163.9M231.9 175.5V176.6M232.1 176.5V178.8M233.2 162.1V159.2M233.6 162.1V160.5M235.2 159.6V158.7M235.2 168.8V171.9M237.1 155.9V154.8M237.7 155.9V154.4M237.7 165.8V167.7M238.5 155.4V152.9M238.5 164.0V164.2M238.6 155.4V154.2M238.7 155.4V149.1M239.3 161.3V163.9M241.8 145.1V142.9M242.1 154.8V157.0M242.7 154.8V159.2M242.9 154.8V155.9M243.5 143.5V142.1M243.9 143.5V138.8M244.5 142.7V142.5M245.2 139.6V138.0M246.3 139.0V137.7M246.6 139.0V138.7M246.9 139.0V136.6M247.3 146.6V147.4M247.7 135.6V134.6M247.8 146.6V148.6M248.4 144.3V148.7M249.5 131.7V131.2M249.5 142.2V143.3M249.6 131.7V131.5M250.3 141.8V147.9M250.4 141.8V148.3M250.5 128.8V128.6M251.2 127.7V119.8M254.1 120.3V120.2M255.0 120.3V117.8M255.2 120.2V119.6M256.2 127.7V130.5M256.7 117.7V116.1M259.3 119.3V119.4M259.5 108.4V107.5M259.7 108.4V107.6M260.2 115.8V116.2M260.6 107.8V103.4M260.8 107.8V105.2M260.9 107.8V106.5M261.4 104.2V103.8M262.0 101.9V100.2M262.1 112.2V113.8M262.3 112.2V115.4M262.4 112.2V116.6M262.5 112.2V113.1M263.1 110.4V110.9M263.3 110.4V110.7M264.1 108.8V110.6M264.5 98.2V95.7M265.0 98.2V97.7M268.2 98.6V99.4M268.8 98.6V101.1M269.1 86.2V85.5M269.3 96.9V98.6M269.5 96.9V100.1M269.5 86.2V84.3M269.7 86.2V85.8M270.1 94.0V94.9M271.5 82.6V81.5M272.2 80.8V78.9M272.2 80.8V77.6M272.3 80.8V79.9M272.5 80.8V72.3M274.8 83.9V86.0M275.0 71.5V70.3M275.4 81.3V84.6M275.4 81.3V84.9M275.4 71.5V70.5M275.6 71.5V70.9M275.7 71.5V66.9M277.2 78.7V85.2M278.8 66.0V64.2M279.6 64.6V60.4M279.8 73.7V77.8M280.2 73.5V74.2M280.5 60.4V49.7M281.0 68.9V71.1M281.0 68.9V69.8M281.2 68.9V70.0M281.3 68.9V72.5M281.4 68.9V69.6M282.7 67.5V72.0M283.8 54.2V54.2M283.8 64.4V67.0M284.0 55.0V51.8M284.1 63.4V71.2M284.8 55.0V52.9M284.8 63.4V69.3M285.2 61.9V64.8M285.3 61.9V64.6M285.6 61.9V65.4M286.3 59.6V61.4M286.4 59.6V61.1M287.9 47.6V47.1M288.2 56.4V56.8M288.4 56.4V59.3M288.8 56.4V59.8M289.6 44.5V42.9M290.6 52.4V53.4M291.0 51.7V58.3M291.8 51.7V52.9M293.1 48.6V49.9M293.7 48.6V49.8M293.8 37.7V32.3M294.5 36.0V33.7M295.0 36.0V35.9M295.7 34.5V30.3M298.0 40.8V41.7M298.3 30.9V28.1M298.5 40.8V43.5M298.6 40.8V44.3M299.6 29.7V27.3M299.7 29.7V29.2M300.4 27.6V26.1M301.0 27.6V22.9M301.0 38.9V39.1M301.6 38.9V39.7M302.1 36.9V37.8M302.1 36.9V38.6M304.3 24.4V17.6M305.0 33.4V33.6M305.1 33.4V36.2M306.2 23.6V19.3M306.3 33.5V38.3M306.7 33.5V37.5M306.7 33.5V33.6M307.0 21.6V21.1M307.8 34.2V35.4M308.1 33.2V34.0M309.6 21.6V19.6M309.8 21.6V20.6M310.5 20.4V18.0M310.7 20.4V18.2M310.8 34.4V36.5M310.9 20.4V17.0M311.0 20.4V18.3M311.5 30.6V33.8M311.6 30.6V31.7M311.8 19.9V17.7M312.2 18.1V15.8M313.3 17.9V17.6M313.5 28.9V32.5M313.5 17.9V15.7M314.4 28.7V31.0M316.1 28.9V29.2M316.4 28.9V29.7M316.5 17.6V10.0M316.6 28.9V30.8M316.7 28.9V33.6M316.8 28.9V31.7M317.3 27.4V28.8M317.8 27.4V28.7M318.6 17.2V13.3M318.7 17.2V11.3M319.3 28.2V33.4M319.6 15.2V11.2M319.7 15.2V11.4M320.1 27.2V27.8M320.5 15.9V10.6M321.1 28.2V28.5M322.5 16.7V15.5M322.6 16.7V11.3M322.7 26.2V35.2M322.9 26.2V28.5M323.4 28.2V29.6M323.6 28.2V28.8M324.5 25.2V27.2M325.5 13.2V12.4M326.4 14.2V13.3M327.1 24.8V29.8M327.7 24.8V26.0M328.0 24.8V30.6M329.6 13.3V12.9M329.9 24.4V26.3M330.2 24.5V32.3M330.3 11.5V11.0M330.5 11.5V8.7M330.8 11.5V8.5M331.0 25.8V27.4M331.5 13.0V7.9M331.6 25.8V27.9M332.3 25.2V26.6M333.0 24.2V24.6M334.3 24.1V24.1M334.3 13.3V6.2M334.3 24.1V24.9M334.7 13.3V11.3M334.9 13.3V7.0M335.1 14.2V11.6M335.1 14.2V11.7M335.2 23.9V24.7M335.3 14.2V6.4M335.3 23.9V27.1M338.0 24.2V27.9M338.2 25.6V30.6M339.8 13.2V8.1M339.9 25.3V26.7M340.1 25.0V30.7M340.3 25.0V25.9M341.3 28.2V28.6M341.5 13.5V12.0M341.6 13.5V10.4M342.3 24.0V24.1M342.6 12.0V11.2M343.6 14.2V10.9M344.0 24.7V25.0M344.6 13.4V7.5M344.8 13.4V11.4M344.9 13.4V13.3M345.2 12.6V11.6M345.6 12.6V8.9M346.0 24.0V24.2M346.2 24.0V27.3M346.5 13.0V11.2M346.9 13.0V8.3M348.4 11.2V7.4M348.7 24.0V26.1M349.6 13.7V10.8M349.8 25.5V32.4M349.9 13.7V9.4M349.9 13.7V7.0M350.7 13.0V11.9M352.4 13.5V11.9M352.6 13.5V10.6M352.6 13.5V7.8M352.7 24.3V25.3M353.3 11.8V7.4M353.3 25.1V25.3" stroke="#000" stroke-width="0.5" fill="none"/>
<path d="M211.5 168.6V180.9M212.5 169.8V179.6M213.5 169.2V181.1M214.5 168.1V179.6M215.5 170.4V181.4M216.5 169.0V179.7M217.5 170.5V181.8M218.5 170.1V181.0M219.5 168.1V180.2M220.5 167.9V180.7M221.5 168.1V181.2M222.5 168.8V182.4M223.5 169.7V179.6M224.5 166.5V182.4M225.5 170.7V182.1M226.5 169.4V179.8M227.5 170.4V179.5M228.5 169.9V180.9M229.5 169.9V181.2M230.5 170.5V180.0M231.5 169.2V180.5M232.5 168.6V180.0M233.5 168.8V180.9M234.5 168.8V181.1M235.5 169.6V180.7M236.5 167.4V181.1M237.5 170.9V181.2M238.5 170.9V179.1M239.5 170.8V182.2M240.5 168.6V181.7M241.5 168.6V180.6M242.5 168.7V180.1M243.5 169.3V180.6M244.5 171.3V181.6M245.5 169.2V180.7M246.5 169.0V180.7M247.5 170.0V181.3M248.5 168.3V180.2M249.5 169.3V180.0M250.5 170.8V180.1M251.5 169.8V180.8M252.5 169.8V179.9M253.5 169.9V180.1M254.5 170.0V180.2M255.5 168.8V181.1M256.5 168.0V183.2M257.5 170.1V181.1M258.5 170.0V180.5M259.5 169.5V180.6M260.5 168.6V180.7M261.5 169.3V182.2M262.5 169.3V180.0M263.5 168.9V180.4M264.5 168.8V181.0M265.5 169.9V182.2M266.5 170.2V181.8M267.5 169.3V180.8M268.5 168.9V179.9M269.5 168.0V180.5M270.5 169.1V180.4M271.5 167.7V183.2M272.5 169.1V180.8M273.5 169.3V179.9M274.5 168.3V180.5M275.5 168.6V180.3M276.5 170.4V181.2M277.5 169.9V180.8M278.5 170.5V181.1M279.5 168.9V180.0M280.5 169.5V181.4M281.5 170.3V180.2M282.5 170.1V181.1M283.5 169.2V179.5M284.5 169.4V180.6M285.5 169.8V180.6M286.5 168.0V181.3M287.5 169.6V182.7M288.5 169.1V181.1M289.5 170.5V182.0M290.5 170.2V180.6M291.5 167.1V180.3M292.5 170.2V181.2M293.5 169.3V180.3M294.5 168.8V180.3M295.5 169.4V181.7M296.5 169.0V179.9M297.5 169.5V180.2M298.5 169.8V181.2M299.5 168.8V180.5M300.5 170.0V181.1M301.5 169.9V179.9M302.5 167.5V180.5M303.5 169.0V179.4M304.5 169.6V181.6M305.5 167.8V179.4M306.5 167.2V180.3M307.5 170.0V182.1M308.5 168.4V180.3M309.5 168.0V180.9M310.5 169.5V181.7M311.5 169.5V180.2M312.5 171.0V180.4M313.5 169.5V180.7M314.5 167.6V180.7M315.5 170.3V180.4M316.5 166.8V181.0M317.5 170.8V179.9M318.5 169.3V181.2M319.5 169.8V181.7M320.5 169.7V182.2M321.5 168.2V179.5M322.5 169.2V180.5M323.5 167.7V180.1M324.5 169.2V180.5M325.5 169.9V180.5M326.5 169.4V180.4M327.5 169.8V180.1M328.5 170.3V180.4M329.5 167.2V181.7M330.5 170.0V180.7M331.5 170.8V181.4M332.5 169.0V182.1M333.5 169.1V180.7M334.5 170.5V181.0M335.5 169.9V180.0M336.5 168.9V181.9M337.5 168.5V181.3M338.5 169.3V180.5M339.5 168.9V181.7M340.5 170.3V180.3M341.5 169.7V178.6M342.5 170.5V180.9M343.5 169.6V180.4M344.5 168.8V180.3M345.5 168.9V182.3M346.5 169.6V180.2M347.5 168.8V179.4M348.5 169.4V182.2M349.5 171.2V179.4M350.5 168.4V180.4M351.5 169.7V178.9M352.5 170.5V180.6M353.5 169.5V183.1" stroke="#00ff00" stroke-width="1.0" fill="none"/>
<path d="M212.4 179.6V180.4M212.5 169.8V168.2M214.1 179.6V180.9M215.1 181.4V181.6M215.1 181.4V184.3M215.2 181.4V185.5M215.4 181.4V183.1M218.8 181.0V183.2M219.2 168.1V166.7M219.6 180.2V181.1M220.2 180.7V183.3M221.3 168.1V165.3M222.3 168.8V168.8M223.9 179.6V181.1M226.2 169.4V168.1M226.7 169.4V158.9M227.9 179.5V181.6M229.2 181.2V181.8M229.5 169.9V168.9M229.8 169.9V166.9M230.6 180.0V182.0M231.0 169.2V167.4M231.2 169.2V168.2M232.0 168.6V167.7M234.4 181.1V185.5M234.8 181.1V181.3M235.8 180.7V180.8M236.9 167.4V163.2M237.8 181.2V183.9M238.1 179.1V179.7M238.2 179.1V179.3M238.5 179.1V181.9M238.5 170.9V168.9M238.9 179.1V179.2M239.6 170.8V164.6M239.8 170.8V168.4M240.4 181.7V182.4M242.0 180.6V181.9M242.0 180.1V182.4M242.3 180.1V180.8M243.3 180.6V183.4M244.1 171.3V170.9M244.3 171.3V170.0M244.4 171.3V163.6M245.5 169.2V165.3M245.9 180.7V182.2M245.9 180.7V183.5M247.0 170.0V165.7M247.3 181.3V183.1M247.4 170.0V167.2M248.4 180.2V180.6M249.3 180.0V180.2M249.6 180.0V182.1M249.8 169.3V167.6M250.2 170.8V166.1M250.5 170.8V169.4M250.5 170.8V170.3M250.8 170.8V167.6M252.2 179.9V180.1M252.5 179.9V181.9M252.6 169.8V169.3M252.9 179.9V180.8M253.3 169.9V168.4M253.7 180.1V182.4M253.9 180.1V183.8M256.1 183.2V184.1M257.3 170.1V167.4M258.2 180.5V180.8M258.3 170.0V166.9M259.2 169.5V168.0M260.4 180.7V181.4M260.5 180.7V183.8M261.5 169.3V168.7M261.7 182.2V182.5M262.7 180.0V182.9M263.0 180.0V184.8M264.8 181.0V181.6M265.3 182.2V183.4M266.2 170.2V168.5M266.3 170.2V162.8M266.4 181.8V182.3M267.0 169.3V167.1M267.5 180.8V182.0M268.3 168.9V168.8M268.4 179.9V184.0M268.7 179.9V188.0M268.8 179.9V182.2M270.3 180.4V181.5M270.5 180.4V182.8M273.3 169.3V168.7M273.4 169.3V168.0M275.0 180.3V182.3M277.4 180.8V184.4M277.5 180.8V182.8M278.1 170.5V166.7M278.5 170.5V165.7M279.9 180.0V180.1M280.0 169.5V165.8M281.2 180.2V181.6M283.5 179.5V179.8M283.9 179.5V179.6M284.2 169.4V168.5M285.2 169.8V169.8M286.0 168.0V166.5M286.6 181.3V183.5M289.0 169.1V166.1M289.7 170.5V166.1M290.8 170.2V168.8M291.3 180.3V180.9M291.3 180.3V181.4M293.7 180.3V181.6M295.6 181.7V186.3M296.4 169.0V168.7M297.9 180.2V183.7M298.0 181.2V183.2M298.5 181.2V181.3M298.6 169.8V169.7M299.4 168.8V168.8M299.8 180.5V183.9M303.1 169.0V168.1M303.1 179.4V184.2M303.8 169.0V168.7M304.3 169.6V169.3M304.3 169.6V164.9M305.2 179.4V183.5M305.9 179.4V179.8M306.2 180.3V181.5M308.1 168.4V168.3M308.3 180.3V187.5M308.4 168.4V167.0M308.9 168.4V168.2M309.4 168.0V166.7M309.8 168.0V166.8M311.2 180.2V182.6M311.3 180.2V184.8M311.5 180.2V180.3M311.7 169.5V167.7M312.8 180.4V180.4M315.5 180.4V186.0M317.1 179.9V184.6M317.4 179.9V182.5M317.6 179.9V180.5M317.6 170.8V168.4M319.4 169.8V168.3M320.1 169.7V167.4M320.3 169.7V167.4M320.9 182.2V183.5M321.2 168.2V166.2M323.2 180.1V180.7M323.4 180.1V183.0M324.8 169.2V167.8M326.1 180.4V181.2M326.8 180.4V182.8M326.9 180.4V180.8M327.3 169.8V168.6M327.3 180.1V180.3M328.0 169.8V169.5M328.3 170.3V169.1M328.3 170.3V170.0M328.8 170.3V168.8M329.0 170.3V169.3M331.4 181.4V189.1M331.5 170.8V168.8M332.9 169.0V168.4M334.5 170.5V170.0M336.2 168.9V167.7M337.8 181.3V182.9M337.9 168.5V168.4M338.4 180.5V187.5M338.6 180.5V180.9M340.6 180.3V182.4M341.1 178.6V181.5M342.1 180.9V184.9M342.9 170.5V164.4M343.0 169.6V168.9M343.5 180.4V181.7M343.6 169.6V167.8M344.1 180.3V186.0M346.3 180.2V186.6M347.0 179.4V180.3M347.1 179.4V179.5M347.8 179.4V183.2M349.3 179.4V182.7M349.5 179.4V181.2M349.6 179.4V183.2M350.6 180.4V182.4M351.2 169.7V169.7M351.9 178.9V182.2M352.0 170.5V169.0M353.6 169.5V167.2" stroke="#00ff00" stroke-width="0.5" fill="none"/>
<path d="M211.5 170.1V179.6M212.5 171.2V181.2M213.5 167.7V179.9M214.5 169.3V183.5M215.5 169.1V182.3M216.5 168.4V180.3M217.5 171.3V179.7M218.5 169.4V181.2M219.5 170.4V180.8M220.5 171.2V181.1M221.5 170.3V179.8M222.5 170.8V181.1M223.5 170.6V180.4M224.5 169.2V180.9M225.5 168.1V179.9M226.5 169.9V180.5M227.5 170.2V180.1M228.5 169.1V183.3M229.5 168.0V180.7M230.5 170.1V180.1M231.5 169.4V181.6M232.5 169.3V181.1M233.5 169.1V179.9M234.5 171.2V179.8M235.5 169.5V179.7M236.5 169.9V181.9M237.5 167.2V181.3M238.5 168.1V181.1M239.5 169.5V181.5M240.5 168.8V180.2M241.5 167.9V179.8M242.5 168.4V181.8M243.5 170.1V180.2M244.5 168.8V181.5M245.5 169.8V181.0M246.5 168.6V183.6M247.5 170.2V182.5M248.5 168.6V180.6M249.5 170.7V179.9M250.5 170.1V180.6M251.5 170.2V181.2M252.5 167.8V183.5M253.5 168.8V180.1M254.5 170.5V183.3M255.5 169.4V181.6M256.5 168.9V180.4M257.5 168.4V179.9M258.5 168.8V179.8M259.5 168.7V179.7M260.5 169.0V181.4M261.5 169.0V180.2M262.5 169.0V179.4M263.5 169.6V180.4M264.5 168.8V179.8M265.5 169.8V179.3M266.5 169.6V180.9M267.5 170.6V180.5M268.5 169.1V180.5M269.5 170.5V180.8M270.5 170.5V179.8M271.5 170.6V179.7M272.5 169.5V179.5M273.5 170.0V180.0M274.5 170.3V180.2M275.5 167.7V183.3M276.5 171.5V180.2M277.5 169.4V182.8M278.5 169.2V183.6M279.5 169.0V179.0M280.5 168.8V179.8M281.5 169.6V180.7M282.5 169.7V181.5M283.5 169.9V180.2M284.5 168.3V180.3M285.5 169.6V180.6M286.5 169.4V181.2M287.5 169.2V182.3M288.5 167.8V182.8M289.5 169.9V181.2M290.5 170.5V183.2M291.5 168.9V181.2M292.5 169.9V179.6M293.5 168.7V181.5M294.5 170.3V180.4M295.5 169.1V181.0M296.5 168.9V180.3M297.5 168.3V180.8M298.5 168.3V180.3M299.5 170.7V180.3M300.5 170.6V180.7M301.5 168.1V179.6M302.5 170.5V180.1M303.5 169.5V182.3M304.5 170.2V179.4M305.5 168.6V181.7M306.5 170.0V180.9M307.5 169.3V181.0M308.5 168.9V180.8M309.5 170.1V181.6M310.5 170.1V181.2M311.5 170.0V180.6M312.5 168.7V180.6M313.5 170.0V181.7M314.5 169.0V181.6M315.5 169.5V181.7M316.5 170.4V181.5M317.5 168.2V181.4M318.5 169.7V179.7M319.5 169.3V180.2M320.5 168.9V180.2M321.5 169.4V180.5M322.5 169.7V180.4M323.5 169.6V180.5M324.5 169.3V181.5M325.5 169.1V182.0M326.5 170.3V181.7M327.5 169.9V181.8M328.5 170.6V180.0M329.5 168.0V179.8M330.5 169.0V180.3M331.5 169.4V181.0M332.5 167.7V181.2M333.5 170.3V183.0M334.5 171.9V180.4M335.5 170.6V178.8M336.5 168.5V179.4M337.5 170.2V180.1M338.5 169.1V178.8M339.5 168.0V181.9M340.5 170.1V178.8M341.5 168.2V181.2M342.5 171.0V182.4M343.5 167.7V182.9M344.5 169.3V181.0M345.5 170.7V182.3M346.5 169.7V179.8M347.5 169.0V180.2M348.5 169.6V183.2M349.5 168.4V180.2M350.5 169.3V181.4M351.5 168.6V182.4M352.5 169.7V179.9M353.5 168.9V183.0" stroke="#0000ff" stroke-width="1.0" fill="none"/>
<path d="M212.0 171.2V167.5M212.2 171.2V166.7M213.1 179.9V184.2M213.6 167.7V164.3M213.8 179.9V180.0M215.0 169.3V168.5M217.2 179.7V180.2M220.4 171.2V169.0M222.4 170.8V167.9M222.8 181.1V181.3M224.3 169.2V166.4M224.5 169.2V169.1M224.7 180.9V182.3M225.9 168.1V166.9M226.6 169.9V168.3M226.9 180.5V182.3M227.1 170.2V168.3M227.4 180.1V181.5M227.5 180.1V181.7M227.6 180.1V184.2M227.8 180.1V180.7M230.9 170.1V168.5M230.9 170.1V168.8M231.9 181.6V182.3M232.4 181.1V181.5M233.8 169.1V168.5M234.0 179.8V183.4M234.1 171.2V169.3M234.1 171.2V170.8M234.2 179.8V181.9M234.4 179.8V182.7M235.9 179.7V182.1M236.2 169.9V167.7M238.0 168.1V167.9M239.3 169.5V165.4M240.6 180.2V181.4M241.6 179.8V180.6M242.1 168.4V167.1M242.3 168.4V167.7M243.8 180.2V180.8M244.3 168.8V167.4M244.7 181.5V187.6M245.2 169.8V169.5M245.7 181.0V181.3M247.3 182.5V183.4M247.9 170.2V169.8M248.2 180.6V183.4M248.5 180.6V181.8M248.7 180.6V184.3M248.9 180.6V180.6M249.0 180.6V189.2M249.3 170.7V163.7M250.5 170.1V168.1M253.1 180.1V183.4M253.2 180.1V181.2M253.3 180.1V183.8M253.4 168.8V165.7M253.5 168.8V167.2M253.8 168.8V166.4M253.9 168.8V165.3M255.4 169.4V165.2M257.0 168.9V167.5M258.7 179.8V183.0M258.8 179.8V180.7M259.1 179.7V180.4M259.1 168.7V166.4M259.6 179.7V183.6M259.8 179.7V180.7M261.1 169.0V167.5M261.3 180.2V186.4M262.2 179.4V180.0M262.2 169.0V168.2M262.4 179.4V179.4M263.2 169.6V168.8M263.3 180.4V181.2M263.6 180.4V181.6M264.1 179.8V183.0M265.1 179.3V183.8M265.2 169.8V168.8M267.1 170.6V167.4M267.2 170.6V169.0M267.5 180.5V180.8M267.6 170.6V170.3M267.8 170.6V167.6M270.1 179.8V182.2M270.3 170.5V164.1M271.3 179.7V181.2M271.4 170.6V169.6M271.7 179.7V181.3M272.1 169.5V167.8M272.6 179.5V179.5M273.7 180.0V181.1M274.1 180.2V182.0M274.4 170.3V169.4M274.9 170.3V170.1M275.0 167.7V166.6M277.4 169.4V165.7M279.9 179.0V182.0M280.3 168.8V167.9M280.6 168.8V168.3M281.0 169.6V169.1M281.5 180.7V186.5M281.7 169.6V169.0M285.4 180.6V181.4M286.7 181.2V182.2M289.2 169.9V169.8M289.9 169.9V168.2M291.4 181.2V186.2M291.7 168.9V168.5M291.7 181.2V184.9M293.5 168.7V164.3M294.3 170.3V168.2M294.9 170.3V168.8M297.7 168.3V166.3M300.2 170.6V170.3M302.0 170.5V168.1M304.4 170.2V169.5M305.3 168.6V167.4M305.7 168.6V164.6M306.2 170.0V168.9M306.5 170.0V166.7M306.6 180.9V187.6M307.5 181.0V186.0M308.9 180.8V181.4M309.2 170.1V168.4M310.5 170.1V166.3M311.6 180.6V183.3M312.0 180.6V181.7M312.4 180.6V181.2M313.3 170.0V166.8M313.5 170.0V168.3M313.8 170.0V169.8M314.6 169.0V161.9M314.7 181.6V182.3M314.8 181.6V188.9M315.6 169.5V161.6M316.2 170.4V169.5M318.1 179.7V180.4M318.6 179.7V180.4M318.8 179.7V181.3M319.2 180.2V183.9M320.0 168.9V165.4M320.3 168.9V168.5M320.7 180.2V186.1M322.6 180.4V181.4M323.1 169.6V168.8M323.1 169.6V165.6M323.4 169.6V167.2M323.6 169.6V168.5M324.1 169.3V168.7M327.5 181.8V182.7M328.0 169.9V169.3M328.6 180.0V180.7M328.9 180.0V182.9M329.1 179.8V181.6M329.4 179.8V179.9M329.8 168.0V165.0M332.6 167.7V165.9M333.8 183.0V184.2M334.1 171.9V171.2M334.1 171.9V170.2M335.2 170.6V167.3M335.3 178.8V179.4M335.3 178.8V183.9M335.3 178.8V180.9M335.7 178.8V181.9M335.8 170.6V170.1M335.9 170.6V170.3M336.3 179.4V184.1M336.6 168.5V166.1M337.9 170.2V168.9M339.0 178.8V181.1M340.3 170.1V169.9M340.8 170.1V169.1M344.0 181.0V185.1M344.3 181.0V185.6M345.2 170.7V169.5M345.7 182.3V182.4M345.9 182.3V185.0M346.0 179.8V180.3M347.1 180.2V181.7M347.9 180.2V180.6M349.6 168.4V165.9M352.1 169.7V162.6M352.4 179.9V180.2" stroke="#0000ff" stroke-width="0.5" fill="none"/>
<path d="M211.5 170.7V181.6M212.5 168.7V182.8M213.5 170.5V180.2M214.5 167.7V182.3M215.5 169.3V179.5M216.5 169.7V181.4M217.5 170.2V181.2M218.5 167.8V180.8M219.5 169.1V181.2M220.5 170.2V181.7M221.5 169.5V180.9M222.5 168.5V183.4M223.5 169.0V181.4M224.5 167.2V180.8M225.5 168.4V181.3M226.5 167.9V180.5M227.5 168.9V180.1M228.5 168.4V180.0M229.5 168.2V180.5M230.5 167.7V184.8M231.5 168.9V181.9M232.5 169.6V181.7M233.5 169.8V180.7M234.5 167.7V180.6M235.5 169.8V181.7M236.5 166.4V180.2M237.5 169.5V181.7M238.5 170.9V181.0M239.5 168.4V185.1M240.5 168.9V180.3M241.5 169.6V183.4M242.5 168.0V181.5M243.5 169.1V186.7M244.5 169.2V179.6M245.5 165.8V182.8M246.5 167.9V180.8M247.5 167.6V184.9M248.5 167.7V181.8M249.5 169.3V180.5M250.5 168.8V182.6M251.5 167.2V182.7M252.5 170.2V181.6M253.5 168.5V182.9M254.5 168.7V182.1M255.5 165.7V183.5M256.5 169.7V181.8M257.5 166.9V179.5M258.5 169.6V181.5M259.5 166.5V179.9M260.5 169.1V183.3M261.5 168.9V179.7M262.5 169.6V183.8M263.5 167.9V182.2M264.5 169.7V182.5M265.5 169.5V180.1M266.5 168.6V182.2M267.5 170.9V181.3M268.5 168.1V181.1M269.5 167.3V181.4M270.5 167.3V181.7M271.5 168.9V180.3M272.5 169.9V181.8M273.5 168.0V180.3M274.5 168.2V181.0M275.5 168.5V180.6M276.5 169.7V182.0M277.5 168.7V180.6M278.5 170.3V181.2M279.5 168.7V180.8M280.5 167.9V181.2M281.5 169.6V180.1M282.5 168.6V182.6M283.5 167.5V180.2M284.5 167.6V180.8M285.5 169.1V181.7M286.5 167.7V181.5M287.5 167.8V180.1M288.5 169.7V180.1M289.5 167.3V180.1M290.5 168.2V179.6M291.5 169.7V181.2M292.5 167.4V181.8M293.5 169.2V182.9M294.5 168.3V180.6M295.5 169.3V183.6M296.5 168.4V180.9M297.5 169.4V180.1M298.5 169.5V179.3M299.5 167.9V180.4M300.5 169.7V183.9M301.5 168.4V180.6M302.5 169.0V182.3M303.5 167.8V181.2M304.5 167.3V180.4M305.5 169.3V180.5M306.5 169.3V183.0M307.5 166.9V182.0M308.5 169.9V181.4M309.5 169.9V180.5M310.5 167.1V181.2M311.5 168.9V182.3M312.5 168.6V182.2M313.5 168.6V180.6M314.5 168.9V179.8M315.5 169.7V181.4M316.5 169.4V181.9M317.5 169.0V180.4M318.5 164.4V181.6M319.5 169.0V181.3M320.5 168.2V181.5M321.5 168.2V182.0M322.5 170.1V179.6M323.5 167.8V180.4M324.5 169.5V179.4M325.5 169.0V182.7M326.5 167.9V181.9M327.5 168.3V181.8M328.5 169.9V181.9M329.5 168.6V181.0M330.5 169.4V183.5M331.5 169.5V180.3M332.5 167.4V183.1M333.5 168.7V182.5M334.5 168.3V181.4M335.5 167.3V182.5M336.5 169.7V181.1M337.5 167.5V182.0M338.5 169.8V180.9M339.5 170.2V181.7M340.5 169.5V181.2M341.5 168.4V180.4M342.5 168.9V180.8M343.5 169.7V180.2M344.5 169.0V181.1M345.5 167.2V184.3M346.5 167.4V182.4M347.5 169.0V181.3M348.5 168.9V184.1M349.5 169.5V180.5M350.5 168.7V183.6M351.5 166.4V181.9M352.5 168.2V182.3M353.5 169.0V184.2" stroke="#ff0000" stroke-width="1.0" fill="none"/>
<path d="M213.2 170.5V168.8M213.5 170.5V164.5M214.8 182.3V182.9M215.7 169.3V167.6M215.7 179.5V180.3M215.7 169.3V165.5M216.6 181.4V186.0M216.7 169.7V168.2M217.6 170.2V169.2M217.7 181.2V181.3M219.3 181.2V182.2M219.3 169.1V168.4M219.6 169.1V169.1M220.9 170.2V170.1M221.8 180.9V184.6M221.9 180.9V183.8M222.4 168.5V168.2M222.8 183.4V185.0M224.1 180.8V181.3M224.2 180.8V184.6M224.4 180.8V182.3M224.6 167.2V167.0M224.7 180.8V186.5M225.4 168.4V163.3M225.6 181.3V182.7M226.3 167.9V166.6M226.6 167.9V166.2M227.8 168.9V167.4M227.9 168.9V168.2M228.1 180.0V180.7M229.0 168.4V166.9M229.2 168.2V165.8M231.7 168.9V167.6M233.4 169.8V168.4M233.6 169.8V167.7M233.9 180.7V187.6M234.0 167.7V163.0M234.4 180.6V182.6M234.9 180.6V186.2M234.9 180.6V181.6M235.2 181.7V190.2M235.6 181.7V182.8M236.3 180.2V180.6M236.6 180.2V182.4M237.2 181.7V182.8M238.0 181.7V185.8M238.4 181.0V184.8M239.1 168.4V166.8M240.6 180.3V182.6M240.8 168.9V167.8M241.3 169.6V167.6M244.8 179.6V184.5M244.9 169.2V167.3M245.0 179.6V184.1M246.8 180.8V184.2M246.8 180.8V182.2M247.4 167.6V167.4M248.0 167.7V167.4M250.2 168.8V167.4M250.2 168.8V167.8M250.4 168.8V167.3M251.5 182.7V184.1M251.7 182.7V183.3M252.1 181.6V185.9M252.3 170.2V169.4M252.4 181.6V182.2M252.7 181.6V182.6M255.0 168.7V167.8M256.3 169.7V169.4M256.7 181.8V186.3M257.1 166.9V166.5M257.1 179.5V181.6M258.7 181.5V184.7M259.3 179.9V180.7M259.9 179.9V181.7M261.0 179.7V182.2M261.5 179.7V181.2M261.5 168.9V166.7M261.9 179.7V180.0M261.9 179.7V184.2M262.3 169.6V167.1M263.8 167.9V166.8M265.0 169.5V168.2M265.2 169.5V166.0M265.6 180.1V181.2M266.6 182.2V183.1M267.1 170.9V168.5M267.2 181.3V184.0M267.5 181.3V183.4M267.5 170.9V168.7M267.8 170.9V169.3M268.2 181.1V183.4M270.5 181.7V186.6M271.0 181.7V184.8M271.1 168.9V164.8M271.3 180.3V182.7M273.4 168.0V167.7M274.1 168.2V168.2M274.2 181.0V181.6M274.4 168.2V165.4M276.6 182.0V183.5M277.7 180.6V182.6M278.0 180.6V182.7M278.4 170.3V167.8M278.7 170.3V167.9M278.8 181.2V183.5M279.0 170.3V165.9M280.4 181.2V181.3M280.6 167.9V166.8M281.1 169.6V167.4M281.3 169.6V168.9M281.5 180.1V182.4M283.5 180.2V182.2M284.7 167.6V165.1M284.9 180.8V183.2M287.9 180.1V180.8M288.4 180.1V180.9M288.6 180.1V184.5M291.0 179.6V183.8M291.2 181.2V181.2M291.9 181.2V183.0M291.9 181.2V185.3M292.1 181.8V183.1M293.7 169.2V165.2M293.7 169.2V164.8M293.9 169.2V163.9M294.4 180.6V181.4M296.5 168.4V167.5M296.5 180.9V183.0M298.1 169.5V168.6M298.1 179.3V180.9M299.0 180.4V182.9M299.4 180.4V185.4M301.9 168.4V162.3M301.9 180.6V181.4M303.0 169.0V168.2M303.9 181.2V182.4M304.0 181.2V181.9M304.4 180.4V184.2M304.4 180.4V182.1M306.0 183.0V183.5M306.5 169.3V167.2M309.0 180.5V183.9M309.1 169.9V164.1M309.8 180.5V182.1M311.1 182.3V186.1M312.4 168.6V167.6M313.8 168.6V167.0M314.2 168.9V166.2M314.9 179.8V180.4M315.0 181.4V184.8M316.0 169.4V168.1M317.1 180.4V183.0M317.2 180.4V181.2M317.5 180.4V183.1M317.9 180.4V181.3M317.9 169.0V164.5M318.2 164.4V158.6M319.9 169.0V165.7M320.4 181.5V182.4M321.4 168.2V166.3M321.9 182.0V184.1M322.2 179.6V180.3M323.8 180.4V182.7M324.6 179.4V182.9M327.3 181.8V186.3M328.3 169.9V167.2M331.1 169.5V168.0M331.1 169.5V166.8M332.0 167.4V167.3M333.7 182.5V187.0M334.5 181.4V182.4M334.9 181.4V182.1M335.9 182.5V182.8M338.1 169.8V169.0M338.3 169.8V169.2M340.6 181.2V182.7M340.9 169.5V166.7M341.1 168.4V163.7M341.5 180.4V182.6M343.4 180.2V181.3M343.7 180.2V181.7M343.8 169.7V167.8M344.3 181.1V183.8M346.6 167.4V164.7M347.4 169.0V168.1M347.6 169.0V168.4M349.7 180.5V181.4" stroke="#ff0000" stroke-width="0.5" fill="none"/>
<rect x="211.5" y="7.5" width="149.9" height="188.0" fill="none" stroke="#959595" stroke-width="1"/>
<path d="M211.5 195.5v-1.5M211.5 7.5v1.5M248.5 195.5v-1.5M248.5 7.5v1.5M286.5 195.5v-1.5M286.5 7.5v1.5M323.5 195.5v-1.5M323.5 7.5v1.5M361.5 195.5v-1.5M361.5 7.5v1.5M211.5 195.5h1.5M361.4 195.5h-1.5M211.5 174.5h1.5M361.4 174.5h-1.5M211.5 153.5h1.5M361.4 153.5h-1.5M211.5 132.5h1.5M361.4 132.5h-1.5M211.5 111.5h1.5M361.4 111.5h-1.5M211.5 91.5h1.5M361.4 91.5h-1.5M211.5 70.5h1.5M361.4 70.5h-1.5M211.5 49.5h1.5M361.4 49.5h-1.5M211.5 28.5h1.5M361.4 28.5h-1.5M211.5 7.5h1.5M361.4 7.5h-1.5" stroke="#555" stroke-width="1" fill="none"/>
<g class="tl"><text x="211.5" y="208.8" text-anchor="middle">0</text><text x="249.0" y="208.8" text-anchor="middle">1</text><text x="286.4" y="208.8" text-anchor="middle">2</text><text x="323.9" y="208.8" text-anchor="middle">3</text><text x="361.4" y="208.8" text-anchor="middle">4</text><text x="207.5" y="199.8" text-anchor="end">4</text><text x="207.5" y="178.9" text-anchor="end">5</text><text x="207.5" y="158.0" text-anchor="end">6</text><text x="207.5" y="137.1" text-anchor="end">7</text><text x="207.5" y="116.2" text-anchor="end">8</text><text x="207.5" y="95.4" text-anchor="end">9</text><text x="207.5" y="74.5" text-anchor="end">10</text><text x="207.5" y="53.6" text-anchor="end">11</text><text x="207.5" y="32.7" text-anchor="end">12</text><text x="207.5" y="11.8" text-anchor="end">13</text></g>
<text class="lb" x="286.4" y="220.3" text-anchor="middle">Time(h)</text>
<text class="lb" transform="translate(194.2,102.0) rotate(-90)" text-anchor="middle">y-axis CMG(dps)</text>
<path d="M432.5 7.5V195.5M469.5 7.5V195.5M507.5 7.5V195.5M395.0 168.5H544.5M395.0 141.5H544.5M395.0 114.5H544.5M395.0 88.5H544.5M395.0 61.5H544.5M395.0 34.5H544.5" stroke="#ececec" stroke-width="1" fill="none"/>
<path d="M395.5 109.0V122.8M396.5 107.0V120.1M397.5 109.4V121.6M398.5 109.1V122.0M399.5 107.1V122.1M400.5 107.7V122.4M401.5 109.1V121.2M402.5 107.0V121.5M403.5 108.1V119.9M404.5 109.0V121.4M405.5 108.9V121.4M406.5 106.7V123.7M407.5 108.4V121.3M408.5 108.1V123.3M409.5 106.7V122.8M410.5 109.3V122.5M411.5 108.2V123.7M412.5 107.9V121.1M413.5 108.1V122.6M414.5 106.3V122.5M415.5 104.0V122.3M416.5 109.7V123.8M417.5 108.7V127.2M418.5 112.4V124.7M419.5 112.8V126.3M420.5 111.3V132.7M421.5 113.0V127.9M422.5 115.6V131.8M423.5 117.3V130.1M424.5 116.4V131.0M425.5 118.1V132.6M426.5 119.6V134.7M427.5 120.2V137.8M428.5 121.2V137.4M429.5 123.0V138.4M430.5 123.3V140.3M431.5 123.5V141.8M432.5 127.1V142.5M433.5 127.9V142.0M434.5 128.9V142.8M435.5 129.9V143.3M436.5 128.3V145.0M437.5 130.1V144.1M438.5 132.3V145.9M439.5 131.8V143.9M440.5 131.2V147.5M441.5 131.5V148.0M442.5 134.9V146.5M443.5 134.9V149.3M444.5 136.7V149.0M445.5 137.3V149.0M446.5 137.5V157.5M447.5 139.8V151.3M448.5 139.4V153.0M449.5 140.8V154.7M450.5 136.7V156.8M451.5 139.9V156.6M452.5 142.3V157.1M453.5 142.9V157.5M454.5 143.5V161.1M455.5 143.9V158.3M456.5 144.9V160.8M457.5 146.9V161.6M458.5 146.3V159.8M459.5 147.1V162.1M460.5 146.6V162.2M461.5 148.4V163.4M462.5 148.5V161.7M463.5 150.8V163.9M464.5 149.6V165.4M465.5 149.6V165.4M466.5 150.1V164.2M467.5 150.8V165.2M468.5 152.1V167.9M469.5 148.9V168.9M470.5 152.5V169.1M471.5 152.2V167.4M472.5 153.4V168.1M473.5 151.9V169.2M474.5 155.4V170.2M475.5 152.8V169.3M476.5 153.4V167.8M477.5 155.6V170.8M478.5 155.4V170.5M479.5 156.9V170.9M480.5 158.2V172.3M481.5 157.4V169.1M482.5 157.8V170.1M483.5 157.2V172.3M484.5 158.2V170.0M485.5 157.0V173.2M486.5 158.8V172.3M487.5 159.4V173.5M488.5 159.1V172.9M489.5 158.2V174.2M490.5 159.3V172.1M491.5 159.5V173.9M492.5 160.2V173.2M493.5 157.7V172.8M494.5 159.8V175.2M495.5 157.5V172.9M496.5 160.2V172.4M497.5 160.3V175.0M498.5 160.7V175.8M499.5 162.1V173.0M500.5 160.4V173.7M501.5 159.8V173.8M502.5 160.4V172.1M503.5 161.5V173.4M504.5 158.9V173.3M505.5 159.8V176.5M506.5 161.0V173.7M507.5 162.0V173.9M508.5 162.3V174.5M509.5 161.6V174.8M510.5 160.4V175.8M511.5 158.9V176.0M512.5 161.8V173.1M513.5 162.5V176.4M514.5 161.1V177.2M515.5 160.2V174.1M516.5 161.1V175.3M517.5 160.0V171.6M518.5 159.4V172.5M519.5 161.9V173.6M520.5 162.9V174.8M521.5 162.6V173.9M522.5 160.5V174.2M523.5 162.6V176.0M524.5 161.0V177.0M525.5 160.1V173.5M526.5 159.5V175.8M527.5 162.1V174.0M528.5 163.6V173.2M529.5 161.1V175.2M530.5 161.8V174.3M531.5 161.5V173.7M532.5 162.1V175.3M533.5 162.4V175.2M534.5 161.3V174.8M535.5 161.5V174.7M536.5 159.8V174.1M537.5 161.2V175.4M538.5 158.9V173.2M539.5 160.7V174.9M540.5 161.3V173.7M541.5 159.7V173.0M542.5 161.8V174.6" stroke="#000" stroke-width="1.0" fill="none"/>
<path d="M395.2 109.0V103.1M395.5 109.0V108.4M395.8 122.8V122.9M396.0 109.0V107.1M397.9 109.4V107.6M398.2 122.0V123.3M398.8 122.0V123.0M399.5 122.1V123.3M399.7 107.1V106.1M399.9 122.1V123.0M401.3 109.1V102.2M401.4 121.2V122.4M401.6 121.2V122.4M401.7 121.2V121.4M403.2 119.9V121.1M403.8 119.9V120.0M404.8 121.4V122.7M405.2 121.4V123.3M405.8 121.4V122.5M407.0 106.7V104.2M408.4 108.1V107.8M409.3 106.7V104.6M410.3 122.5V124.1M410.4 109.3V102.1M410.9 122.5V131.2M414.4 106.3V106.1M415.0 122.5V123.4M415.0 104.0V102.7M417.3 108.7V105.8M418.2 124.7V125.1M418.5 124.7V129.1M418.6 124.7V125.5M419.1 126.3V126.4M419.1 112.8V111.5M419.2 112.8V110.9M419.8 112.8V108.8M420.0 112.8V108.1M420.4 132.7V134.6M421.4 127.9V130.0M421.9 127.9V130.8M423.1 117.3V111.1M423.9 117.3V114.6M424.2 131.0V138.1M424.9 116.4V115.0M425.2 118.1V116.4M425.9 118.1V116.1M426.4 134.7V137.5M427.0 137.8V140.7M428.1 121.2V120.6M429.0 138.4V140.7M429.3 123.0V114.5M429.5 123.0V122.3M430.4 123.3V122.0M430.5 140.3V143.0M433.4 142.0V145.5M433.9 142.0V143.0M434.6 142.8V146.4M435.0 142.8V144.9M435.4 129.9V119.4M435.9 143.3V144.2M436.0 143.3V144.5M437.2 130.1V128.8M437.2 130.1V127.5M437.6 144.1V145.2M438.0 144.1V145.8M438.2 132.3V126.4M438.6 145.9V147.8M438.9 132.3V132.0M439.3 143.9V144.8M439.5 143.9V144.8M440.6 147.5V154.6M441.1 148.0V148.2M441.9 148.0V148.6M442.4 134.9V133.1M442.7 146.5V146.8M442.9 134.9V133.9M445.3 149.0V156.5M445.4 137.3V134.3M445.6 149.0V149.9M446.5 137.5V132.7M447.5 151.3V151.4M449.4 140.8V139.9M450.0 140.8V139.9M451.8 156.6V159.2M451.9 139.9V139.3M452.3 142.3V139.8M452.5 142.3V138.3M453.5 142.9V139.6M454.0 157.5V157.7M455.0 143.5V142.3M455.2 158.3V160.9M455.6 158.3V160.3M458.5 159.8V160.9M459.3 147.1V144.3M459.5 147.1V140.9M459.6 147.1V146.8M460.1 146.6V146.0M460.7 146.6V138.4M461.1 163.4V165.0M462.6 148.5V145.9M462.8 148.5V148.4M465.6 149.6V147.1M466.3 164.2V166.3M468.7 167.9V169.0M470.1 152.5V150.0M470.2 152.5V148.9M471.5 167.4V170.0M474.1 155.4V153.9M474.5 155.4V155.1M474.6 155.4V153.2M474.7 155.4V152.1M475.1 169.3V172.3M475.4 152.8V148.8M475.5 152.8V151.6M476.0 167.8V171.1M476.2 167.8V169.0M476.5 167.8V168.0M477.4 170.8V171.9M477.8 155.6V155.1M478.8 170.5V172.7M480.1 158.2V156.2M480.8 158.2V156.3M481.0 158.2V157.7M481.0 157.4V155.8M481.1 169.1V169.8M481.3 157.4V156.8M481.9 157.4V157.1M482.2 157.8V152.5M482.3 157.8V157.2M483.2 172.3V172.5M484.1 170.0V173.8M485.0 157.0V153.9M485.1 157.0V156.1M485.7 173.2V174.6M487.2 159.4V156.0M489.2 158.2V155.1M490.7 172.1V175.6M491.2 159.5V158.4M491.4 173.9V174.1M491.7 159.5V159.2M492.0 173.9V180.4M492.0 160.2V157.0M492.1 160.2V158.1M492.1 160.2V155.4M492.3 173.2V173.3M492.4 173.2V175.5M492.8 173.2V174.8M493.2 172.8V176.0M493.8 172.8V177.3M494.3 175.2V182.1M494.5 175.2V179.0M496.1 160.2V157.2M497.1 160.3V157.6M498.1 160.7V160.4M498.5 175.8V176.1M498.6 160.7V159.9M498.9 175.8V176.5M499.8 162.1V160.2M500.0 160.4V158.3M500.6 160.4V160.0M500.6 173.7V175.4M502.2 172.1V172.4M502.4 172.1V176.1M502.6 172.1V172.2M503.1 161.5V159.4M503.4 173.4V173.8M503.7 161.5V158.6M504.3 173.3V173.7M504.9 173.3V177.1M505.1 176.5V181.4M505.7 159.8V159.1M506.3 161.0V156.4M507.0 173.7V174.7M507.0 173.9V176.1M507.6 173.9V181.6M508.3 174.5V176.3M508.5 162.3V161.6M508.9 162.3V162.0M509.3 174.8V175.0M509.7 161.6V159.9M511.2 176.0V177.2M511.4 176.0V177.1M511.6 176.0V177.6M513.8 176.4V180.8M514.4 161.1V160.1M514.9 161.1V156.8M515.3 160.2V154.6M516.6 161.1V159.0M516.6 161.1V158.4M517.0 171.6V173.3M517.3 171.6V175.8M517.5 160.0V158.0M517.7 171.6V180.4M517.9 171.6V175.8M518.3 172.5V173.4M518.5 159.4V158.9M520.8 162.9V160.9M521.4 173.9V178.4M521.9 162.6V159.8M523.8 176.0V177.7M525.4 173.5V174.8M527.0 174.0V176.8M527.8 162.1V159.3M527.9 162.1V155.6M528.5 163.6V158.9M530.2 174.3V177.3M530.3 174.3V176.8M530.5 161.8V157.1M530.6 174.3V178.9M530.8 161.8V153.8M531.0 161.8V157.9M531.1 173.7V175.4M532.2 162.1V159.9M532.5 162.1V160.5M532.6 162.1V160.8M532.8 175.3V177.3M533.1 175.2V181.8M533.1 175.2V181.5M533.2 162.4V162.1M534.8 161.3V157.3M535.8 174.7V175.5M535.9 174.7V175.7M536.0 174.1V175.5M536.8 174.1V174.4M537.3 175.4V180.4M537.4 161.2V160.9M538.0 173.2V174.9M538.2 173.2V174.9M540.4 161.3V160.9M540.7 173.7V177.3M541.2 159.7V156.5M542.1 161.8V158.8" stroke="#000" stroke-width="0.5" fill="none"/>
<path d="M395.5 107.6V123.6M396.5 110.9V125.3M397.5 107.3V123.5M398.5 108.1V123.8M399.5 108.0V124.1M400.5 108.0V120.7M401.5 109.0V121.1M402.5 106.2V124.7M403.5 105.9V121.5M404.5 108.4V118.7M405.5 107.8V122.9M406.5 107.6V121.7M407.5 107.7V119.2M408.5 105.7V119.8M409.5 107.2V121.3M410.5 103.2V117.9M411.5 102.6V119.4M412.5 105.0V116.7M413.5 101.0V115.8M414.5 103.4V116.9M415.5 103.3V117.3M416.5 103.6V115.9M417.5 102.4V117.0M418.5 101.7V118.4M419.5 104.3V119.4M420.5 104.6V116.0M421.5 102.6V119.2M422.5 104.3V119.3M423.5 106.3V119.1M424.5 106.8V118.8M425.5 105.6V120.7M426.5 108.6V120.2M427.5 106.0V122.2M428.5 107.3V120.1M429.5 107.0V122.1M430.5 106.5V122.1M431.5 108.9V121.1M432.5 110.2V122.9M433.5 108.2V121.6M434.5 108.7V123.2M435.5 108.5V123.2M436.5 108.7V122.0M437.5 109.6V120.7M438.5 110.0V122.8M439.5 109.0V122.6M440.5 108.8V124.3M441.5 110.2V123.1M442.5 109.4V123.2M443.5 110.1V120.5M444.5 109.0V121.9M445.5 105.4V124.7M446.5 105.8V123.2M447.5 106.2V120.8M448.5 107.6V122.9M449.5 108.6V125.5M450.5 106.6V124.4M451.5 109.6V123.4M452.5 111.1V123.7M453.5 110.3V123.2M454.5 107.7V123.2M455.5 109.4V121.6M456.5 109.9V123.4M457.5 109.2V122.6M458.5 109.7V122.5M459.5 109.8V123.2M460.5 108.1V124.0M461.5 108.0V123.5M462.5 108.5V122.9M463.5 110.5V124.4M464.5 109.8V121.6M465.5 106.9V122.4M466.5 110.3V123.6M467.5 106.7V121.3M468.5 107.9V121.7M469.5 107.1V122.2M470.5 109.7V121.6M471.5 109.9V123.8M472.5 109.9V121.8M473.5 106.2V122.8M474.5 108.7V121.8M475.5 107.7V123.9M476.5 107.9V122.7M477.5 109.6V122.1M478.5 108.7V122.9M479.5 110.2V123.0M480.5 110.1V123.9M481.5 108.3V124.1M482.5 109.3V122.4M483.5 106.7V121.0M484.5 108.4V124.0M485.5 108.0V122.8M486.5 104.5V123.2M487.5 107.8V123.1M488.5 108.1V125.5M489.5 108.2V122.1M490.5 108.7V123.2M491.5 109.8V124.4M492.5 110.5V122.2M493.5 108.0V124.5M494.5 106.5V121.5M495.5 105.9V124.2M496.5 109.2V123.0M497.5 108.1V122.8M498.5 109.5V123.4M499.5 107.2V121.6M500.5 110.1V122.7M501.5 108.3V121.7M502.5 109.3V123.5M503.5 108.9V122.3M504.5 108.0V123.9M505.5 109.9V124.3M506.5 108.8V122.5M507.5 109.3V123.3M508.5 107.1V124.5M509.5 107.8V121.6M510.5 107.6V121.8M511.5 109.7V122.4M512.5 108.2V123.2M513.5 108.4V121.5M514.5 108.7V119.4M515.5 108.3V123.2M516.5 108.2V123.4M517.5 110.9V121.7M518.5 110.9V121.0M519.5 109.8V122.2M520.5 109.2V121.9M521.5 108.5V123.2M522.5 107.1V121.5M523.5 109.6V122.5M524.5 108.4V124.1M525.5 107.6V123.4M526.5 109.4V124.1M527.5 108.7V121.6M528.5 109.9V121.9M529.5 108.3V126.3M530.5 108.4V122.8M531.5 108.1V121.4M532.5 109.2V123.5M533.5 109.1V121.9M534.5 110.0V122.8M535.5 107.2V123.2M536.5 108.7V121.5M537.5 109.5V122.2M538.5 109.4V123.9M539.5 108.8V121.5M540.5 108.5V122.6M541.5 108.5V121.1M542.5 109.4V121.6" stroke="#00ff00" stroke-width="1.0" fill="none"/>
<path d="M396.8 110.9V108.6M396.9 110.9V106.6M397.7 123.5V124.0M398.1 123.8V124.5M400.7 120.7V126.5M400.8 120.7V123.8M402.0 121.1V122.3M404.0 121.5V122.5M404.1 118.7V124.1M404.2 118.7V121.2M404.6 108.4V106.0M404.6 118.7V118.8M405.0 118.7V118.9M406.7 121.7V121.8M407.5 107.7V107.5M408.2 119.8V121.6M408.5 105.7V104.3M410.3 117.9V118.8M410.5 103.2V98.7M410.7 103.2V99.1M414.4 103.4V101.0M414.9 103.4V103.2M414.9 116.9V121.7M415.7 117.3V117.4M415.7 103.3V100.8M418.1 118.4V121.7M419.3 119.4V122.0M419.7 104.3V100.1M420.5 116.0V119.2M420.8 116.0V118.0M423.1 119.1V119.2M423.7 119.1V121.1M423.9 106.3V104.7M424.7 118.8V121.6M424.8 118.8V118.9M427.1 122.2V123.1M427.9 106.0V106.0M428.5 120.1V122.4M428.9 120.1V120.6M431.0 122.1V124.3M431.4 121.1V121.6M432.0 121.1V121.4M433.1 121.6V121.6M435.5 123.2V128.3M435.9 123.2V123.9M436.1 122.0V123.2M436.1 122.0V122.0M436.5 108.7V107.9M440.4 108.8V108.3M440.5 108.8V105.8M441.4 110.2V109.5M441.8 110.2V106.2M442.2 123.2V125.1M442.4 123.2V123.2M442.5 109.4V105.5M443.7 120.5V121.8M444.0 110.1V109.7M447.6 106.2V102.8M447.8 120.8V126.5M448.7 122.9V124.3M450.2 106.6V106.2M452.7 111.1V110.3M453.7 110.3V110.3M454.3 107.7V105.5M455.5 109.4V108.3M462.7 122.9V123.1M463.3 110.5V108.9M464.3 109.8V109.2M466.6 110.3V109.4M467.1 121.3V122.8M467.4 106.7V106.6M467.6 121.3V125.9M467.9 106.7V105.9M468.0 121.7V124.5M469.3 122.2V122.8M470.0 121.6V121.6M472.3 109.9V109.5M472.4 121.8V122.1M474.2 121.8V124.9M476.1 107.9V107.2M477.3 109.6V107.2M478.5 122.9V124.3M478.5 122.9V123.2M478.7 108.7V108.4M479.8 110.2V107.8M480.3 110.1V108.2M482.7 109.3V107.3M483.3 121.0V125.6M484.3 124.0V124.4M484.9 108.4V107.7M489.0 108.2V108.2M489.2 122.1V127.8M489.4 108.2V106.9M490.9 108.7V107.0M493.8 108.0V105.5M494.1 121.5V122.9M494.2 106.5V105.6M494.9 121.5V123.5M498.6 109.5V108.3M498.6 109.5V107.0M500.3 110.1V108.7M501.1 108.3V107.3M501.2 121.7V126.1M501.3 108.3V107.4M502.1 109.3V106.7M502.2 109.3V103.4M502.4 123.5V124.0M507.0 123.3V125.0M510.1 121.8V122.1M510.2 107.6V105.5M511.2 122.4V122.6M514.4 119.4V119.7M515.8 108.3V107.8M516.6 108.2V106.7M517.7 110.9V108.5M518.0 110.9V110.0M518.4 110.9V110.2M518.9 121.0V121.9M519.0 110.9V106.1M519.4 122.2V125.0M520.2 109.2V106.2M520.5 121.9V126.1M523.7 122.5V126.1M524.6 108.4V107.0M526.0 109.4V103.2M528.0 109.9V109.4M531.1 108.1V107.9M531.5 121.4V121.7M532.2 123.5V125.8M533.2 109.1V107.8M534.2 122.8V125.0M534.2 122.8V125.3M534.8 110.0V110.0M536.9 108.7V106.4M538.6 109.4V108.1M540.3 122.6V125.6M540.4 122.6V123.6M541.2 121.1V121.3M541.4 121.1V125.8M542.1 109.4V108.0" stroke="#00ff00" stroke-width="0.5" fill="none"/>
<path d="M395.5 107.0V124.3M396.5 110.4V123.1M397.5 109.4V122.8M398.5 108.5V121.6M399.5 107.7V125.0M400.5 107.4V122.6M401.5 107.9V123.5M402.5 109.1V122.9M403.5 108.7V124.0M404.5 107.6V122.1M405.5 109.1V123.1M406.5 108.3V122.5M407.5 109.3V122.3M408.5 107.0V121.2M409.5 106.5V122.4M410.5 107.9V121.7M411.5 109.0V122.1M412.5 106.2V122.5M413.5 110.2V121.4M414.5 110.7V125.5M415.5 106.8V121.7M416.5 108.3V121.6M417.5 108.8V122.2M418.5 110.7V120.9M419.5 106.9V122.5M420.5 106.5V121.6M421.5 108.7V123.0M422.5 107.2V122.3M423.5 107.8V122.3M424.5 107.3V121.8M425.5 109.6V124.4M426.5 109.1V122.7M427.5 110.3V124.4M428.5 111.7V121.8M429.5 109.6V121.3M430.5 108.0V123.3M431.5 109.3V123.5M432.5 110.3V122.2M433.5 107.9V123.6M434.5 109.0V124.7M435.5 110.1V122.4M436.5 108.8V122.1M437.5 109.8V121.0M438.5 109.7V125.8M439.5 110.4V121.4M440.5 110.1V121.7M441.5 107.0V123.0M442.5 108.1V125.3M443.5 106.4V123.1M444.5 108.4V121.0M445.5 108.4V120.1M446.5 109.3V121.6M447.5 109.1V124.1M448.5 109.1V121.6M449.5 109.6V123.6M450.5 107.5V121.0M451.5 110.0V122.8M452.5 109.9V122.0M453.5 108.8V124.0M454.5 108.2V120.7M455.5 108.7V122.6M456.5 110.6V121.3M457.5 108.2V120.9M458.5 108.9V121.5M459.5 108.7V122.1M460.5 108.1V125.9M461.5 107.8V123.3M462.5 105.9V121.4M463.5 109.1V124.1M464.5 107.3V124.3M465.5 109.7V123.2M466.5 109.5V121.9M467.5 106.8V121.3M468.5 109.3V121.5M469.5 110.1V123.8M470.5 108.8V123.5M471.5 108.6V121.3M472.5 110.1V123.3M473.5 107.5V121.8M474.5 109.4V122.4M475.5 107.4V123.9M476.5 107.7V123.8M477.5 108.6V121.6M478.5 108.6V124.5M479.5 108.9V124.2M480.5 109.1V123.9M481.5 109.5V120.5M482.5 109.6V122.8M483.5 105.2V123.1M484.5 110.0V123.0M485.5 108.8V122.4M486.5 108.0V121.3M487.5 109.1V122.9M488.5 106.6V122.8M489.5 108.8V120.4M490.5 107.0V123.0M491.5 109.0V123.1M492.5 111.2V122.4M493.5 109.8V122.3M494.5 108.3V122.2M495.5 109.5V123.3M496.5 107.7V122.2M497.5 108.4V121.9M498.5 107.1V122.9M499.5 109.4V120.8M500.5 108.2V120.5M501.5 109.0V122.3M502.5 108.2V122.3M503.5 109.9V121.4M504.5 107.6V123.3M505.5 109.9V123.5M506.5 109.9V123.1M507.5 108.9V122.2M508.5 109.8V123.8M509.5 105.6V123.2M510.5 108.5V121.2M511.5 108.8V121.9M512.5 110.0V122.7M513.5 105.9V122.6M514.5 107.7V124.3M515.5 108.5V123.7M516.5 108.6V123.3M517.5 108.4V121.5M518.5 108.7V123.3M519.5 109.4V123.8M520.5 108.7V124.1M521.5 110.1V123.2M522.5 109.8V122.7M523.5 107.7V121.8M524.5 108.8V122.4M525.5 109.2V122.4M526.5 108.8V123.0M527.5 107.9V121.5M528.5 108.8V124.1M529.5 102.9V121.4M530.5 108.2V122.4M531.5 108.6V123.6M532.5 108.3V123.0M533.5 109.5V123.2M534.5 107.7V122.9M535.5 110.0V122.8M536.5 109.8V122.3M537.5 109.1V123.8M538.5 109.6V121.0M539.5 108.6V120.1M540.5 107.8V123.0M541.5 108.5V126.2M542.5 110.6V121.8" stroke="#0000ff" stroke-width="1.0" fill="none"/>
<path d="M396.5 110.4V108.8M397.1 109.4V109.1M400.9 122.6V124.0M401.8 107.9V105.2M402.2 122.9V124.9M402.3 109.1V108.7M402.7 122.9V123.3M403.9 124.0V125.1M404.8 122.1V123.0M406.1 108.3V101.4M406.4 122.5V123.7M406.7 108.3V107.6M408.2 121.2V123.1M408.3 121.2V122.5M409.2 122.4V123.7M412.9 122.5V123.5M413.9 110.2V107.7M414.4 110.7V109.2M415.6 121.7V122.0M416.1 121.6V122.7M416.9 121.6V126.7M418.4 120.9V124.6M420.7 106.5V105.3M426.0 109.6V106.7M427.0 109.1V106.6M427.8 110.3V107.0M428.9 111.7V110.4M436.0 122.1V123.6M437.0 108.8V108.4M438.2 109.7V107.7M439.9 110.4V109.4M440.3 110.1V107.9M443.4 123.1V123.2M444.1 121.0V123.0M444.7 121.0V124.6M445.7 120.1V121.0M446.3 109.3V108.4M446.9 121.6V122.3M447.7 124.1V125.2M448.2 121.6V122.9M449.1 109.6V109.0M450.3 107.5V106.4M450.5 121.0V126.8M450.8 121.0V127.7M450.9 121.0V122.2M452.1 109.9V105.2M455.8 122.6V124.4M456.5 110.6V109.0M456.6 110.6V110.4M457.0 121.3V122.8M458.9 108.9V108.8M463.5 124.1V126.3M464.7 107.3V106.6M466.2 121.9V122.3M466.8 109.5V108.5M468.2 109.3V104.7M468.3 121.5V122.0M468.5 121.5V123.3M468.9 121.5V123.4M471.5 121.3V123.7M471.6 108.6V106.3M472.1 123.3V123.9M472.4 110.1V104.7M473.6 107.5V104.3M475.0 122.4V124.2M475.1 107.4V104.1M476.2 123.8V123.9M478.7 108.6V106.3M479.3 124.2V126.7M484.6 110.0V109.6M485.2 122.4V127.1M485.6 108.8V105.7M486.2 108.0V107.3M487.7 109.1V104.8M488.1 122.8V126.9M488.4 122.8V123.7M490.3 107.0V104.7M492.1 111.2V109.4M492.3 111.2V108.3M492.4 111.2V111.1M492.6 122.4V124.1M492.9 122.4V122.5M492.9 111.2V111.0M494.4 122.2V125.1M495.2 109.5V109.3M496.2 122.2V122.8M498.1 107.1V106.6M499.4 120.8V121.7M500.0 120.8V123.5M500.2 120.5V124.7M500.2 120.5V121.5M500.2 120.5V126.6M501.4 109.0V108.0M501.9 122.3V125.3M502.0 122.3V127.2M502.2 122.3V123.3M503.4 121.4V121.9M504.0 109.9V104.7M504.2 107.6V106.9M504.4 107.6V106.1M506.4 123.1V123.3M507.6 122.2V126.5M508.2 109.8V109.0M510.0 108.5V107.9M514.9 124.3V125.4M515.7 108.5V107.9M517.1 121.5V124.2M517.3 121.5V127.7M519.5 109.4V109.2M521.3 123.2V125.1M521.9 110.1V106.6M522.8 109.8V109.4M524.3 108.8V107.0M527.1 107.9V106.9M527.8 107.9V107.0M535.4 110.0V105.8M536.7 109.8V108.2M539.1 120.1V120.1M539.5 120.1V120.3M542.1 110.6V107.9M542.4 110.6V109.7M542.5 121.8V125.0M542.5 110.6V109.3" stroke="#0000ff" stroke-width="0.5" fill="none"/>
<path d="M395.5 104.4V122.8M396.5 108.0V121.6M397.5 109.2V122.9M398.5 106.2V121.2M399.5 107.4V124.9M400.5 107.7V123.9M401.5 109.3V123.0M402.5 108.6V124.0M403.5 108.1V124.1M404.5 103.7V125.0M405.5 108.0V122.1M406.5 108.1V124.3M407.5 108.7V122.0M408.5 106.8V126.6M409.5 110.0V123.0M410.5 107.1V124.5M411.5 108.9V123.9M412.5 106.3V125.8M413.5 110.6V126.0M414.5 108.7V121.5M415.5 109.3V124.6M416.5 109.2V123.5M417.5 108.1V126.6M418.5 107.8V123.7M419.5 107.2V123.2M420.5 108.7V124.2M421.5 108.9V122.7M422.5 108.3V121.3M423.5 107.4V123.8M424.5 108.8V125.9M425.5 108.0V123.3M426.5 109.3V123.1M427.5 109.7V124.8M428.5 107.9V122.3M429.5 106.1V125.1M430.5 107.1V123.6M431.5 109.3V122.6M432.5 108.0V123.7M433.5 106.5V125.0M434.5 108.1V123.1M435.5 106.8V122.5M436.5 108.4V123.1M437.5 106.9V124.0M438.5 106.4V123.8M439.5 106.9V122.8M440.5 107.4V122.8M441.5 107.6V124.5M442.5 109.5V125.0M443.5 108.2V125.6M444.5 106.8V123.8M445.5 107.5V122.6M446.5 107.2V121.9M447.5 108.8V124.5M448.5 107.6V121.6M449.5 107.0V124.8M450.5 107.6V126.3M451.5 108.2V120.8M452.5 108.7V122.8M453.5 108.9V125.4M454.5 107.8V123.8M455.5 107.4V121.7M456.5 107.1V122.2M457.5 107.5V121.9M458.5 108.4V122.4M459.5 108.4V122.5M460.5 105.9V121.1M461.5 107.9V124.6M462.5 108.8V123.2M463.5 107.0V125.5M464.5 106.0V123.4M465.5 104.8V124.1M466.5 110.4V122.2M467.5 109.4V122.9M468.5 108.1V125.5M469.5 109.8V127.8M470.5 106.9V125.2M471.5 106.6V124.0M472.5 108.4V123.6M473.5 110.3V122.5M474.5 108.5V122.9M475.5 107.4V123.7M476.5 109.7V124.4M477.5 107.2V123.2M478.5 109.7V123.3M479.5 108.4V123.5M480.5 107.8V126.2M481.5 104.7V126.0M482.5 107.6V124.1M483.5 107.1V123.0M484.5 110.2V124.3M485.5 109.3V123.2M486.5 108.8V121.6M487.5 107.9V121.6M488.5 107.8V126.0M489.5 108.4V124.9M490.5 107.6V121.7M491.5 106.7V122.1M492.5 108.9V123.2M493.5 107.2V123.2M494.5 106.7V123.8M495.5 104.9V125.1M496.5 106.2V120.9M497.5 110.1V123.8M498.5 107.5V123.9M499.5 106.0V123.4M500.5 109.2V123.1M501.5 108.9V126.5M502.5 109.2V121.7M503.5 105.4V122.1M504.5 107.4V122.0M505.5 108.0V122.0M506.5 108.4V123.0M507.5 109.7V123.7M508.5 109.1V121.6M509.5 105.9V122.7M510.5 104.2V122.7M511.5 105.6V127.9M512.5 108.5V122.7M513.5 108.5V123.4M514.5 110.2V122.5M515.5 108.2V124.2M516.5 109.1V124.3M517.5 109.3V123.9M518.5 107.0V124.7M519.5 108.3V124.7M520.5 108.7V123.4M521.5 106.6V123.2M522.5 106.9V124.9M523.5 108.6V123.9M524.5 107.7V124.0M525.5 109.9V121.7M526.5 107.9V121.8M527.5 107.2V124.7M528.5 106.3V123.7M529.5 106.9V123.2M530.5 108.6V121.2M531.5 104.7V128.3M532.5 105.4V123.6M533.5 106.8V126.3M534.5 106.8V123.5M535.5 109.5V123.8M536.5 107.5V123.7M537.5 109.7V123.3M538.5 109.2V124.9M539.5 108.2V124.1M540.5 107.3V126.8M541.5 106.9V124.1M542.5 108.7V122.6" stroke="#ff0000" stroke-width="1.0" fill="none"/>
<path d="M396.5 121.6V124.6M397.8 109.2V107.7M397.9 109.2V109.0M400.1 107.7V102.4M400.5 107.7V105.5M401.9 109.3V105.2M402.2 108.6V103.5M402.3 124.0V127.1M402.7 124.0V124.6M405.5 122.1V122.2M406.3 124.3V127.4M406.9 108.1V107.3M407.5 122.0V123.5M410.4 124.5V128.2M410.9 107.1V105.8M414.5 108.7V107.5M414.9 108.7V108.1M415.7 109.3V105.9M416.8 109.2V107.4M416.9 109.2V105.6M419.1 107.2V105.2M419.2 107.2V107.1M419.4 107.2V106.0M420.8 108.7V106.9M421.7 108.9V105.3M421.7 122.7V124.5M422.6 121.3V126.4M423.0 121.3V123.0M424.0 108.8V107.7M424.4 108.8V104.2M425.8 123.3V127.4M426.1 123.1V125.0M427.0 123.1V124.1M427.4 109.7V106.0M428.9 122.3V124.1M432.5 123.7V124.4M434.5 123.1V125.9M434.8 123.1V123.2M434.8 108.1V104.5M436.3 108.4V108.1M436.6 123.1V124.2M436.8 108.4V105.4M436.9 123.1V126.1M438.5 106.4V106.1M440.1 122.8V124.1M441.9 124.5V126.0M442.2 109.5V107.6M443.0 109.5V107.3M446.1 121.9V122.2M446.3 121.9V124.2M446.7 107.2V103.4M446.9 107.2V105.9M448.3 107.6V103.7M449.0 121.6V122.7M451.4 120.8V126.7M451.7 108.2V105.9M452.4 108.7V106.2M454.1 107.8V104.8M456.0 121.7V124.3M458.2 108.4V105.9M458.3 122.4V124.5M465.6 104.8V103.7M466.2 122.2V125.0M466.4 110.4V110.2M468.0 109.4V107.8M469.6 109.8V106.2M472.0 123.6V127.8M473.3 110.3V106.9M474.2 108.5V106.6M474.2 108.5V105.6M475.5 107.4V97.2M476.5 124.4V129.5M477.3 123.2V126.8M477.6 107.2V106.9M478.2 109.7V109.5M479.2 108.4V108.1M479.9 123.5V126.7M480.7 107.8V103.6M482.2 107.6V106.7M483.8 123.0V127.9M486.1 121.6V123.9M486.6 121.6V123.4M486.8 121.6V122.7M487.1 107.9V106.4M491.4 122.1V122.5M492.3 108.9V108.3M492.8 108.9V105.5M493.0 123.2V123.8M494.8 123.8V128.0M496.7 120.9V121.3M496.9 120.9V124.0M497.2 110.1V103.4M498.1 107.5V106.2M498.4 123.9V127.8M498.4 107.5V107.5M499.2 123.4V128.6M499.5 123.4V124.3M500.1 109.2V106.7M500.8 109.2V106.4M501.8 108.9V108.7M502.2 121.7V123.6M502.3 121.7V122.2M502.9 109.2V107.6M503.1 105.4V105.4M503.1 122.1V125.8M503.6 105.4V104.4M507.6 109.7V108.9M508.0 121.6V123.8M509.0 122.7V124.0M509.5 122.7V123.7M510.2 122.7V124.7M513.2 108.5V107.1M514.8 122.5V123.0M516.3 109.1V107.3M516.8 109.1V108.3M517.2 123.9V126.8M517.2 109.3V107.0M518.6 107.0V106.7M520.6 123.4V132.5M521.9 123.2V125.3M522.2 124.9V127.2M523.3 108.6V107.1M523.5 108.6V105.6M525.8 109.9V108.8M526.8 107.9V106.5M529.2 106.9V106.8M529.9 123.2V124.7M530.6 121.2V122.6M530.7 121.2V125.1M530.8 121.2V123.1M530.9 121.2V124.8M532.5 123.6V128.5M532.9 123.6V123.7M537.9 123.3V124.0M538.0 123.3V123.8M540.1 107.3V104.9M542.4 108.7V106.2" stroke="#ff0000" stroke-width="0.5" fill="none"/>
<rect x="395.0" y="7.5" width="149.5" height="188.0" fill="none" stroke="#959595" stroke-width="1"/>
<path d="M395.5 195.5v-1.5M395.5 7.5v1.5M432.5 195.5v-1.5M432.5 7.5v1.5M469.5 195.5v-1.5M469.5 7.5v1.5M507.5 195.5v-1.5M507.5 7.5v1.5M544.5 195.5v-1.5M544.5 7.5v1.5M395.0 195.5h1.5M544.5 195.5h-1.5M395.0 168.5h1.5M544.5 168.5h-1.5M395.0 141.5h1.5M544.5 141.5h-1.5M395.0 114.5h1.5M544.5 114.5h-1.5M395.0 88.5h1.5M544.5 88.5h-1.5M395.0 61.5h1.5M544.5 61.5h-1.5M395.0 34.5h1.5M544.5 34.5h-1.5M395.0 7.5h1.5M544.5 7.5h-1.5" stroke="#555" stroke-width="1" fill="none"/>
<g class="tl"><text x="395.0" y="208.8" text-anchor="middle">0</text><text x="432.4" y="208.8" text-anchor="middle">1</text><text x="469.8" y="208.8" text-anchor="middle">2</text><text x="507.1" y="208.8" text-anchor="middle">3</text><text x="544.5" y="208.8" text-anchor="middle">4</text><text x="391.0" y="199.8" text-anchor="end">50</text><text x="391.0" y="172.9" text-anchor="end">51</text><text x="391.0" y="146.1" text-anchor="end">52</text><text x="391.0" y="119.2" text-anchor="end">53</text><text x="391.0" y="92.4" text-anchor="end">54</text><text x="391.0" y="65.5" text-anchor="end">55</text><text x="391.0" y="38.7" text-anchor="end">56</text><text x="391.0" y="11.8" text-anchor="end">57</text></g>
<text class="lb" x="469.8" y="220.3" text-anchor="middle">Time(h)</text>
<text class="lb" transform="translate(376.8,102.0) rotate(-90)" text-anchor="middle">z-axis CMG(dps)</text>
<rect x="440.5" y="24.5" width="87.0" height="42.0" fill="#fff" stroke="#7a7a7a" stroke-width="0.8"/>
<line x1="443.6" x2="464.2" y1="30.4" y2="30.4" stroke="#000" stroke-width="0.6"/>
<text class="lg" x="466.6" y="33.5">Primary</text>
<line x1="443.6" x2="464.2" y1="40.5" y2="40.5" stroke="#00ff00" stroke-width="0.6"/>
<text class="lg" x="466.6" y="43.6">Conventional 1</text>
<line x1="443.6" x2="464.2" y1="50.5" y2="50.5" stroke="#0000ff" stroke-width="0.6"/>
<text class="lg" x="466.6" y="53.6">Conventional 2</text>
<line x1="443.6" x2="464.2" y1="60.5" y2="60.5" stroke="#ff0000" stroke-width="0.6"/>
<text class="lg" x="466.6" y="63.6">Novel</text>
<text class="cap" x="277.1" y="244.3" text-anchor="middle">(e)</text>
</svg>
</body></html>
